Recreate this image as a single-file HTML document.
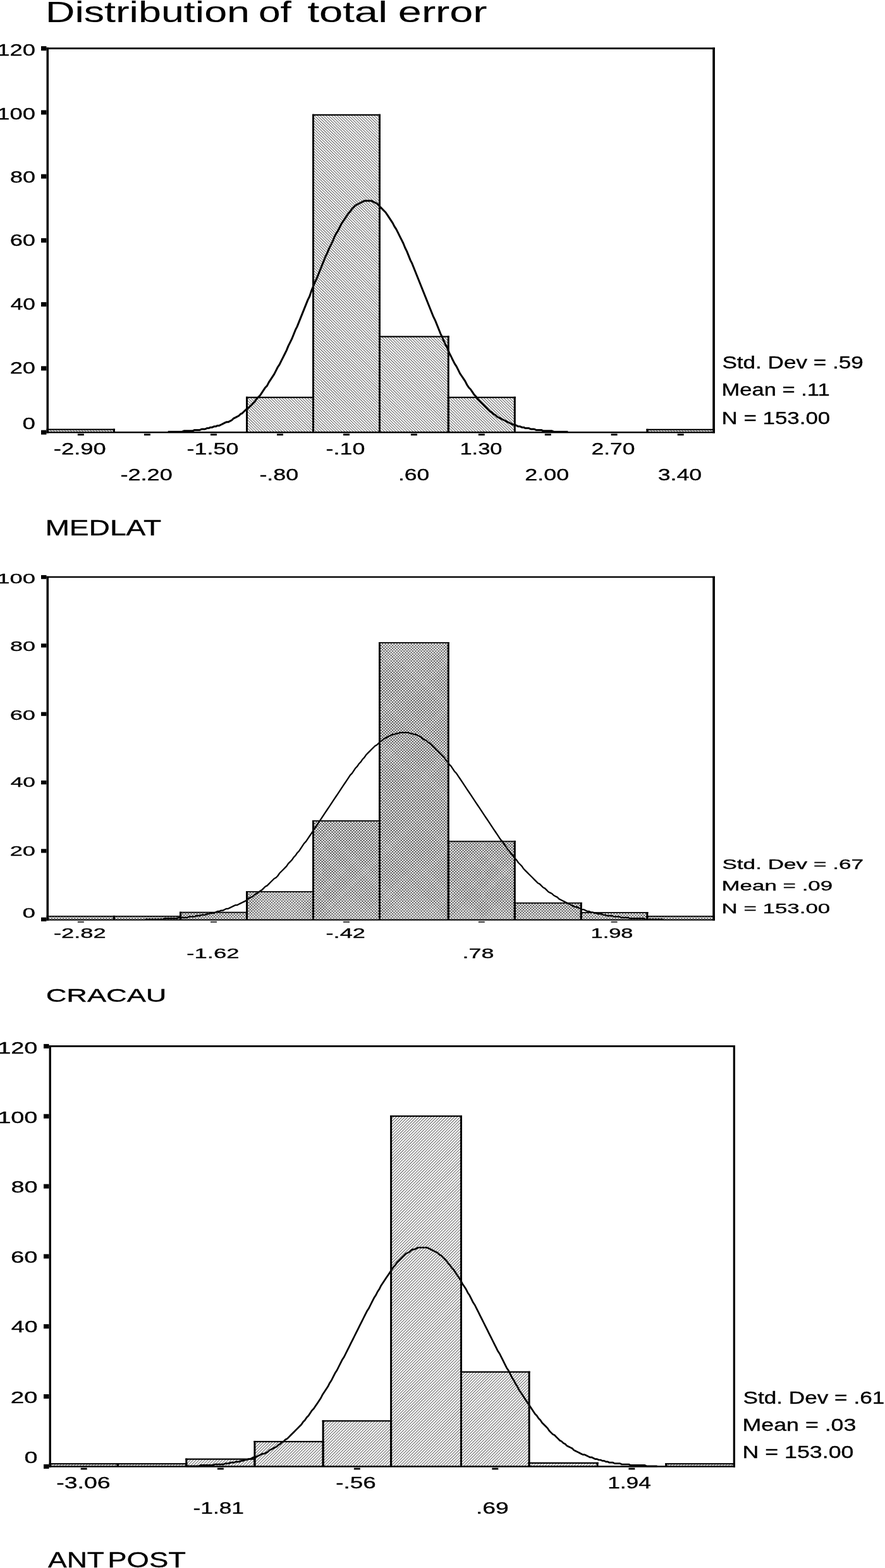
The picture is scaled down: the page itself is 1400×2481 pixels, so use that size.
<!DOCTYPE html>
<html><head><meta charset="utf-8"><title>Distribution of total error</title>
<style>html,body{margin:0;padding:0;background:#fff;overflow:hidden;width:1400px;height:2481px}svg{display:block}text{font-family:"Liberation Sans",Arial,Helvetica,sans-serif;fill:#000;stroke:#000;stroke-width:0.35px}</style>
</head><body>
<svg width="1400" height="2481" viewBox="0 0 1400 2481">
<rect width="1400" height="2481" fill="#fff"/>
<text y="35.2" font-size="47" style="stroke-width:0.1px"><tspan x="71.77" textLength="323.31" lengthAdjust="spacingAndGlyphs">Distribution</tspan> <tspan x="408.95" textLength="51.99" lengthAdjust="spacingAndGlyphs">of</tspan> <tspan x="486.40" textLength="126.64" lengthAdjust="spacingAndGlyphs">total</tspan> <tspan x="629.87" textLength="140.62" lengthAdjust="spacingAndGlyphs">error</tspan></text>
<path d="M75.2,680.8L78.6,684.1M78.5,679.6L83.1,684.1M83.0,679.6L87.6,684.1M87.5,679.6L92.1,684.1M92.0,679.6L96.6,684.1M96.5,679.6L101.1,684.1M101.0,679.6L105.6,684.1M105.5,679.6L110.1,684.1M110.0,679.6L114.6,684.1M114.5,679.6L119.1,684.1M119.0,679.6L123.6,684.1M123.5,679.6L128.1,684.1M128.0,679.6L132.6,684.1M132.5,679.6L137.1,684.1M137.0,679.6L141.6,684.1M141.5,679.6L146.1,684.1M146.0,679.6L150.6,684.1M150.5,679.6L155.1,684.1M155.0,679.6L159.6,684.1M159.5,679.6L164.1,684.1M164.0,679.6L168.6,684.1M168.5,679.6L173.1,684.1M173.0,679.6L177.6,684.1M177.5,679.6L180.4,682.4M390.5,681.0L393.6,684.1M390.5,676.6L398.1,684.1M390.5,672.2L402.6,684.1M390.5,667.8L407.1,684.1M390.5,663.4L411.6,684.1M390.5,659.0L416.1,684.1M390.5,654.6L420.6,684.1M390.5,650.2L425.1,684.1M390.5,645.8L429.6,684.1M390.5,641.4L434.1,684.1M390.5,637.0L438.6,684.1M390.5,632.6L443.1,684.1M391.1,628.8L447.6,684.1M395.6,628.8L452.1,684.1M400.1,628.8L456.6,684.1M404.6,628.8L461.1,684.1M409.1,628.8L465.6,684.1M413.6,628.8L470.1,684.1M418.1,628.8L474.6,684.1M422.6,628.8L479.1,684.1M427.1,628.8L483.6,684.1M431.6,628.8L488.1,684.1M436.1,628.8L492.6,684.1M440.6,628.8L495.5,682.5M445.1,628.8L495.5,678.1M449.6,628.8L495.5,673.7M454.1,628.8L495.5,669.3M458.6,628.8L495.5,664.9M463.1,628.8L495.5,660.5M467.6,628.8L495.5,656.1M472.1,628.8L495.5,651.7M476.6,628.8L495.5,647.3M481.1,628.8L495.5,642.9M485.6,628.8L495.5,638.5M490.1,628.8L495.5,634.1M494.6,628.8L495.5,629.7M495.5,682.5L497.1,684.1M495.5,678.1L501.6,684.1M495.5,673.7L506.1,684.1M495.5,669.3L510.6,684.1M495.5,664.9L515.1,684.1M495.5,660.5L519.6,684.1M495.5,656.1L524.1,684.1M495.5,651.7L528.6,684.1M495.5,647.3L533.1,684.1M495.5,642.9L537.6,684.1M495.5,638.5L542.1,684.1M495.5,634.1L546.6,684.1M495.5,629.7L551.1,684.1M495.5,625.3L555.6,684.1M495.5,620.9L560.1,684.1M495.5,616.5L564.6,684.1M495.5,612.1L569.1,684.1M495.5,607.7L573.6,684.1M495.5,603.3L578.1,684.1M495.5,598.9L582.6,684.1M495.5,594.5L587.1,684.1M495.5,590.1L591.6,684.1M495.5,585.7L596.1,684.1M495.5,581.3L600.5,684.0M495.5,576.9L600.5,679.6M495.5,572.5L600.5,675.2M495.5,568.1L600.5,670.8M495.5,563.7L600.5,666.4M495.5,559.3L600.5,662.0M495.5,554.9L600.5,657.6M495.5,550.5L600.5,653.2M495.5,546.1L600.5,648.8M495.5,541.7L600.5,644.4M495.5,537.3L600.5,640.0M495.5,532.9L600.5,635.6M495.5,528.5L600.5,631.2M495.5,524.1L600.5,626.8M495.5,519.7L600.5,622.4M495.5,515.3L600.5,618.0M495.5,510.9L600.5,613.6M495.5,506.5L600.5,609.2M495.5,502.1L600.5,604.8M495.5,497.7L600.5,600.4M495.5,493.3L600.5,596.0M495.5,488.9L600.5,591.6M495.5,484.5L600.5,587.2M495.5,480.1L600.5,582.8M495.5,475.7L600.5,578.4M495.5,471.3L600.5,574.0M495.5,466.9L600.5,569.6M495.5,462.5L600.5,565.2M495.5,458.1L600.5,560.8M495.5,453.7L600.5,556.4M495.5,449.3L600.5,552.0M495.5,444.9L600.5,547.6M495.5,440.5L600.5,543.2M495.5,436.1L600.5,538.8M495.5,431.7L600.5,534.4M495.5,427.3L600.5,530.0M495.5,422.9L600.5,525.6M495.5,418.5L600.5,521.2M495.5,414.1L600.5,516.8M495.5,409.7L600.5,512.4M495.5,405.3L600.5,508.0M495.5,400.9L600.5,503.6M495.5,396.5L600.5,499.2M495.5,392.1L600.5,494.8M495.5,387.7L600.5,490.4M495.5,383.3L600.5,486.0M495.5,378.9L600.5,481.6M495.5,374.5L600.5,477.2M495.5,370.1L600.5,472.8M495.5,365.7L600.5,468.4M495.5,361.3L600.5,464.0M495.5,356.9L600.5,459.6M495.5,352.5L600.5,455.2M495.5,348.1L600.5,450.8M495.5,343.7L600.5,446.4M495.5,339.3L600.5,442.0M495.5,334.9L600.5,437.6M495.5,330.5L600.5,433.2M495.5,326.1L600.5,428.8M495.5,321.7L600.5,424.4M495.5,317.3L600.5,420.0M495.5,312.9L600.5,415.6M495.5,308.5L600.5,411.2M495.5,304.1L600.5,406.8M495.5,299.7L600.5,402.4M495.5,295.3L600.5,398.0M495.5,290.9L600.5,393.6M495.5,286.5L600.5,389.2M495.5,282.1L600.5,384.8M495.5,277.7L600.5,380.4M495.5,273.3L600.5,376.0M495.5,268.9L600.5,371.6M495.5,264.5L600.5,367.2M495.5,260.1L600.5,362.8M495.5,255.7L600.5,358.4M495.5,251.3L600.5,354.0M495.5,246.9L600.5,349.6M495.5,242.5L600.5,345.2M495.5,238.1L600.5,340.8M495.5,233.7L600.5,336.4M495.5,229.3L600.5,332.0M495.5,224.9L600.5,327.6M495.5,220.5L600.5,323.2M495.5,216.1L600.5,318.8M495.5,211.7L600.5,314.4M495.5,207.3L600.5,310.0M495.5,202.9L600.5,305.6M495.5,198.5L600.5,301.2M495.5,194.1L600.5,296.8M495.5,189.7L600.5,292.4M495.5,185.3L600.5,288.0M496.4,181.8L600.5,283.6M500.9,181.8L600.5,279.2M505.4,181.8L600.5,274.8M509.9,181.8L600.5,270.4M514.4,181.8L600.5,266.0M518.9,181.8L600.5,261.6M523.4,181.8L600.5,257.2M527.9,181.8L600.5,252.8M532.4,181.8L600.5,248.4M536.9,181.8L600.5,244.0M541.4,181.8L600.5,239.6M545.9,181.8L600.5,235.2M550.4,181.8L600.5,230.8M554.9,181.8L600.5,226.4M559.4,181.8L600.5,222.0M563.9,181.8L600.5,217.6M568.4,181.8L600.5,213.2M572.9,181.8L600.5,208.8M577.4,181.8L600.5,204.4M581.9,181.8L600.5,200.0M586.4,181.8L600.5,195.6M590.9,181.8L600.5,191.2M595.4,181.8L600.5,186.8M599.9,181.8L600.5,182.4M600.5,679.6L605.1,684.1M600.5,675.2L609.6,684.1M600.5,670.8L614.1,684.1M600.5,666.4L618.6,684.1M600.5,662.0L623.1,684.1M600.5,657.6L627.6,684.1M600.5,653.2L632.1,684.1M600.5,648.8L636.6,684.1M600.5,644.4L641.1,684.1M600.5,640.0L645.6,684.1M600.5,635.6L650.1,684.1M600.5,631.2L654.6,684.1M600.5,626.8L659.1,684.1M600.5,622.4L663.6,684.1M600.5,618.0L668.1,684.1M600.5,613.6L672.6,684.1M600.5,609.2L677.1,684.1M600.5,604.8L681.6,684.1M600.5,600.4L686.1,684.1M600.5,596.0L690.6,684.1M600.5,591.6L695.1,684.1M600.5,587.2L699.6,684.1M600.5,582.8L704.1,684.1M600.5,578.4L708.6,684.1M600.5,574.0L709.3,680.3M600.5,569.6L709.3,675.9M600.5,565.2L709.3,671.5M600.5,560.8L709.3,667.1M600.5,556.4L709.3,662.7M600.5,552.0L709.3,658.3M600.5,547.6L709.3,653.9M600.5,543.2L709.3,649.5M600.5,538.8L709.3,645.1M600.5,534.4L709.3,640.7M603.2,532.6L709.3,636.3M607.7,532.6L709.3,631.9M612.2,532.6L709.3,627.5M616.7,532.6L709.3,623.1M621.2,532.6L709.3,618.7M625.7,532.6L709.3,614.3M630.2,532.6L709.3,609.9M634.7,532.6L709.3,605.5M639.2,532.6L709.3,601.1M643.7,532.6L709.3,596.7M648.2,532.6L709.3,592.3M652.7,532.6L709.3,587.9M657.2,532.6L709.3,583.5M661.7,532.6L709.3,579.1M666.2,532.6L709.3,574.7M670.7,532.6L709.3,570.3M675.2,532.6L709.3,565.9M679.7,532.6L709.3,561.5M684.2,532.6L709.3,557.1M688.7,532.6L709.3,552.7M693.2,532.6L709.3,548.3M697.7,532.6L709.3,543.9M702.2,532.6L709.3,539.5M706.7,532.6L709.3,535.1M709.3,680.3L713.1,684.1M709.3,675.9L717.6,684.1M709.3,671.5L722.1,684.1M709.3,667.1L726.6,684.1M709.3,662.7L731.1,684.1M709.3,658.3L735.6,684.1M709.3,653.9L740.1,684.1M709.3,649.5L744.6,684.1M709.3,645.1L749.1,684.1M709.3,640.7L753.6,684.1M709.3,636.3L758.1,684.1M709.3,631.9L762.6,684.1M710.6,628.8L767.1,684.1M715.1,628.8L771.6,684.1M719.6,628.8L776.1,684.1M724.1,628.8L780.6,684.1M728.6,628.8L785.1,684.1M733.1,628.8L789.6,684.1M737.6,628.8L794.1,684.1M742.1,628.8L798.6,684.1M746.6,628.8L803.1,684.1M751.1,628.8L807.6,684.1M755.6,628.8L812.1,684.1M760.1,628.8L814.3,681.8M764.6,628.8L814.3,677.4M769.1,628.8L814.3,673.0M773.6,628.8L814.3,668.6M778.1,628.8L814.3,664.2M782.6,628.8L814.3,659.8M787.1,628.8L814.3,655.4M791.6,628.8L814.3,651.0M796.1,628.8L814.3,646.6M800.6,628.8L814.3,642.2M805.1,628.8L814.3,637.8M809.6,628.8L814.3,633.4M1023.9,679.9L1028.1,684.1M1028.2,679.8L1032.6,684.1M1032.7,679.8L1037.1,684.1M1037.2,679.8L1041.6,684.1M1041.7,679.8L1046.1,684.1M1046.2,679.8L1050.6,684.1M1050.7,679.8L1055.1,684.1M1055.2,679.8L1059.6,684.1M1059.7,679.8L1064.1,684.1M1064.2,679.8L1068.6,684.1M1068.7,679.8L1073.1,684.1M1073.2,679.8L1077.6,684.1M1077.7,679.8L1082.1,684.1M1082.2,679.8L1086.6,684.1M1086.7,679.8L1091.1,684.1M1091.2,679.8L1095.6,684.1M1095.7,679.8L1100.1,684.1M1100.2,679.8L1104.6,684.1M1104.7,679.8L1109.1,684.1M1109.2,679.8L1113.6,684.1M1113.7,679.8L1118.1,684.1M1118.2,679.8L1122.6,684.1M1122.7,679.8L1127.1,684.1M1127.2,679.8L1129.5,682.0" fill="none" stroke="#6e6e6e" stroke-width="1.15"/>
<rect x="73.75" y="678.50" width="108.15" height="2.20" fill="#000" />
<rect x="73.75" y="678.50" width="3.00" height="5.60" fill="#000" />
<rect x="178.90" y="678.50" width="3.00" height="5.60" fill="#000" />
<rect x="389.00" y="627.70" width="108.00" height="2.20" fill="#000" />
<rect x="389.00" y="627.70" width="3.00" height="56.40" fill="#000" />
<rect x="494.00" y="627.70" width="3.00" height="56.40" fill="#000" />
<rect x="494.00" y="180.70" width="108.00" height="2.20" fill="#000" />
<rect x="494.00" y="180.70" width="3.00" height="503.40" fill="#000" />
<rect x="599.00" y="180.70" width="3.00" height="503.40" fill="#000" />
<rect x="599.00" y="531.50" width="111.80" height="2.20" fill="#000" />
<rect x="599.00" y="531.50" width="3.00" height="152.60" fill="#000" />
<rect x="707.80" y="531.50" width="3.00" height="152.60" fill="#000" />
<rect x="707.80" y="627.70" width="108.00" height="2.20" fill="#000" />
<rect x="707.80" y="627.70" width="3.00" height="56.40" fill="#000" />
<rect x="812.80" y="627.70" width="3.00" height="56.40" fill="#000" />
<rect x="1022.40" y="678.70" width="108.60" height="2.20" fill="#000" />
<rect x="1022.40" y="678.70" width="3.00" height="5.40" fill="#000" />
<rect x="1128.00" y="678.70" width="3.00" height="5.40" fill="#000" />
<path d="M265.7,683.2 L268.5,683.2 L271.3,683.2 L274.1,683.2 L276.9,683.2 L279.7,683.2 L282.5,683.2 L285.3,683.2 L288.1,683.2 L290.9,681.8 L293.7,681.8 L296.5,681.8 L299.3,681.8 L302.1,681.8 L304.9,681.8 L307.7,680.4 L310.5,680.4 L313.3,680.4 L316.1,680.4 L318.9,679.0 L321.7,679.0 L324.5,679.0 L327.3,677.6 L330.1,677.6 L332.9,676.2 L335.7,676.2 L338.5,674.8 L341.3,674.8 L344.1,673.4 L346.9,673.4 L349.7,672.0 L352.5,670.6 L355.3,669.2 L358.1,667.8 L360.9,667.8 L363.7,666.4 L366.5,665.0 L369.3,662.2 L372.1,660.8 L374.9,659.4 L377.7,658.0 L380.5,655.2 L383.3,653.8 L386.1,651.0 L388.9,648.2 L391.7,646.8 L394.5,644.0 L397.3,641.2 L400.1,638.4 L402.9,635.6 L405.7,631.4 L408.5,628.6 L411.3,625.8 L414.1,621.6 L416.9,617.4 L419.7,613.2 L422.5,610.4 L425.3,604.8 L428.1,600.6 L430.9,596.4 L433.7,592.2 L436.5,586.6 L439.3,581.0 L442.1,576.8 L444.9,571.2 L447.7,565.6 L450.5,560.0 L453.3,554.4 L456.1,547.4 L458.9,541.8 L461.7,536.2 L464.5,529.2 L467.3,522.2 L470.1,516.6 L472.9,509.6 L475.7,502.6 L478.5,495.6 L481.3,488.6 L484.1,481.6 L486.9,474.6 L489.7,469.0 L492.5,460.6 L495.3,453.6 L498.1,446.6 L500.9,441.0 L503.7,434.0 L506.5,427.0 L509.3,420.0 L512.1,413.0 L514.9,406.0 L517.7,400.4 L520.5,393.4 L523.3,387.8 L526.1,382.2 L528.9,375.2 L531.7,369.6 L534.5,365.4 L537.3,359.8 L540.1,354.2 L542.9,350.0 L545.7,345.8 L548.5,341.6 L551.3,337.4 L554.1,334.6 L556.9,330.4 L559.7,327.6 L562.5,324.8 L565.3,323.4 L568.1,322.0 L570.9,320.6 L573.7,319.2 L576.5,317.8 L579.3,317.8 L582.1,317.8 L584.9,317.8 L587.7,317.8 L590.5,319.2 L593.3,320.6 L596.1,322.0 L598.9,324.8 L601.6,327.6 L604.4,330.4 L607.2,333.2 L610.0,336.0 L612.8,340.2 L615.6,344.4 L618.4,348.6 L621.2,352.8 L624.0,358.4 L626.8,362.6 L629.6,368.2 L632.4,373.8 L635.2,379.4 L638.0,385.0 L640.8,392.0 L643.6,397.6 L646.4,404.6 L649.2,411.6 L652.0,417.2 L654.8,424.2 L657.6,431.2 L660.4,438.2 L663.2,445.2 L666.0,452.2 L668.8,459.2 L671.6,466.2 L674.4,473.2 L677.2,480.2 L680.0,487.2 L682.8,494.2 L685.6,501.2 L688.4,506.8 L691.2,513.8 L694.0,520.8 L696.8,527.8 L699.6,533.4 L702.4,540.4 L705.2,546.0 L708.0,551.6 L710.8,558.6 L713.6,564.2 L716.4,569.8 L719.2,575.4 L722.0,579.6 L724.8,585.2 L727.6,590.8 L730.4,595.0 L733.2,599.2 L736.0,603.4 L738.8,609.0 L741.6,613.2 L744.4,616.0 L747.2,620.2 L750.0,624.4 L752.8,627.2 L755.6,631.4 L758.4,634.2 L761.2,637.0 L764.0,639.8 L766.8,642.6 L769.6,645.4 L772.4,648.2 L775.2,651.0 L778.0,652.4 L780.8,655.2 L783.6,656.6 L786.4,659.4 L789.2,660.8 L792.0,662.2 L794.8,663.6 L797.6,665.0 L800.4,666.4 L803.2,667.8 L806.0,669.2 L808.8,670.6 L811.6,672.0 L814.4,672.0 L817.2,673.4 L820.0,674.8 L822.8,674.8 L825.6,676.2 L828.4,676.2 L831.2,677.6 L834.0,677.6 L836.8,677.6 L839.6,679.0 L842.4,679.0 L845.2,679.0 L848.0,680.4 L850.8,680.4 L853.6,680.4 L856.4,680.4 L859.2,681.8 L862.0,681.8 L864.8,681.8 L867.6,681.8 L870.4,681.8 L873.2,681.8 L876.0,683.2 L878.8,683.2 L881.6,683.2 L884.4,683.2 L887.2,683.2 L890.0,683.2 L892.8,683.2 L895.6,683.2 L898.4,683.2" fill="none" stroke="#000" stroke-width="3.0" stroke-linejoin="round"/>
<rect x="73.50" y="75.20" width="3.50" height="610.15" fill="#000" />
<rect x="73.50" y="75.20" width="1057.45" height="2.80" fill="#000" />
<rect x="1127.25" y="75.20" width="3.70" height="610.15" fill="#000" />
<rect x="73.50" y="682.85" width="1057.45" height="2.50" fill="#000" />
<rect x="65.00" y="73.10" width="8.50" height="7.00" fill="#000" />
<text transform="translate(-4.73,88.30) scale(1.3763,1)" font-size="26.4">120</text>
<rect x="65.00" y="174.35" width="8.50" height="7.00" fill="#000" />
<text transform="translate(-4.73,188.60) scale(1.3763,1)" font-size="26.4">100</text>
<rect x="65.00" y="275.60" width="8.50" height="7.00" fill="#000" />
<text transform="translate(15.97,288.80) scale(1.3607,1)" font-size="26.4">80</text>
<rect x="65.00" y="376.85" width="8.50" height="7.00" fill="#000" />
<text transform="translate(15.69,389.30) scale(1.3707,1)" font-size="26.4">60</text>
<rect x="65.00" y="478.10" width="8.50" height="7.00" fill="#000" />
<text transform="translate(16.71,490.00) scale(1.3348,1)" font-size="26.4">40</text>
<rect x="65.00" y="579.35" width="8.50" height="7.00" fill="#000" />
<text transform="translate(15.69,590.70) scale(1.3707,1)" font-size="26.4">20</text>
<rect x="65.00" y="680.60" width="8.50" height="7.00" fill="#000" />
<text transform="translate(35.53,679.40) scale(1.3882,1)" font-size="26.4">0</text>
<rect x="122.83" y="686.30" width="10.00" height="2.80" fill="#000" />
<rect x="227.90" y="686.30" width="10.00" height="2.80" fill="#000" />
<rect x="332.95" y="686.30" width="10.00" height="2.80" fill="#000" />
<rect x="438.00" y="686.30" width="10.00" height="2.80" fill="#000" />
<rect x="543.00" y="686.30" width="10.00" height="2.80" fill="#000" />
<rect x="649.90" y="686.30" width="10.00" height="2.80" fill="#000" />
<rect x="756.80" y="686.30" width="10.00" height="2.80" fill="#000" />
<rect x="861.80" y="686.30" width="10.00" height="2.80" fill="#000" />
<rect x="966.60" y="686.30" width="10.00" height="2.80" fill="#000" />
<rect x="1071.70" y="686.30" width="10.00" height="2.80" fill="#000" />
<text transform="translate(84.87,719.30) scale(1.3754,1)" font-size="26.4">-2.90</text>
<text transform="translate(190.47,760.40) scale(1.3685,1)" font-size="26.4">-2.20</text>
<text transform="translate(295.58,719.30) scale(1.3598,1)" font-size="26.4">-1.50</text>
<text transform="translate(410.39,760.40) scale(1.3581,1)" font-size="26.4">-.80</text>
<text transform="translate(515.59,719.30) scale(1.3581,1)" font-size="26.4">-.10</text>
<text transform="translate(630.01,760.40) scale(1.3441,1)" font-size="26.4">.60</text>
<text transform="translate(727.41,719.30) scale(1.3064,1)" font-size="26.4">1.30</text>
<text transform="translate(830.20,760.40) scale(1.3622,1)" font-size="26.4">2.00</text>
<text transform="translate(935.42,719.30) scale(1.3459,1)" font-size="26.4">2.70</text>
<text transform="translate(1040.66,760.40) scale(1.3531,1)" font-size="26.4">3.40</text>
<text transform="translate(1142.42,582.60) scale(1.2866,1)" font-size="27.3">Std. Dev = .59</text>
<text transform="translate(1141.55,626.40) scale(1.2648,1)" font-size="27.3">Mean = .11</text>
<text transform="translate(1141.52,671.40) scale(1.2790,1)" font-size="27.3">N = 153.00</text>
<text transform="translate(71.39,846.80) scale(1.3336,1)" font-size="34.6">MEDLAT</text>
<path d="M75.2,1455.2L75.6,1455.5M75.2,1450.7L80.1,1455.5M78.9,1449.8L84.7,1455.5M83.4,1449.8L89.2,1455.5M88.0,1449.8L93.8,1455.5M92.5,1449.8L98.3,1455.5M97.1,1449.8L102.9,1455.5M101.6,1449.8L107.4,1455.5M106.2,1449.8L112.0,1455.5M110.7,1449.8L116.5,1455.5M115.3,1449.8L121.1,1455.5M119.8,1449.8L125.6,1455.5M124.4,1449.8L130.2,1455.5M128.9,1449.8L134.7,1455.5M133.5,1449.8L139.3,1455.5M138.0,1449.8L143.8,1455.5M142.6,1449.8L148.4,1455.5M147.1,1449.8L152.9,1455.5M151.7,1449.8L157.5,1455.5M156.2,1449.8L162.0,1455.5M160.8,1449.8L166.6,1455.5M165.3,1449.8L171.1,1455.5M169.9,1449.8L175.7,1455.5M174.4,1449.8L180.2,1455.5M179.0,1449.8L180.4,1451.2M180.4,1451.2L184.8,1455.5M183.5,1449.8L189.3,1455.5M188.1,1449.8L193.9,1455.5M192.6,1449.8L198.4,1455.5M197.2,1449.8L203.0,1455.5M201.7,1449.8L207.5,1455.5M206.3,1449.8L212.1,1455.5M210.8,1449.8L216.6,1455.5M215.4,1449.8L221.2,1455.5M219.9,1449.8L225.7,1455.5M224.5,1449.8L230.3,1455.5M229.0,1449.8L234.8,1455.5M233.6,1449.8L239.4,1455.5M238.1,1449.8L243.9,1455.5M242.7,1449.8L248.5,1455.5M247.2,1449.8L253.0,1455.5M251.8,1449.8L257.6,1455.5M256.3,1449.8L262.1,1455.5M260.9,1449.8L266.7,1455.5M265.4,1449.8L271.2,1455.5M270.0,1449.8L275.8,1455.5M274.5,1449.8L280.3,1455.5M279.1,1449.8L284.9,1455.5M283.6,1449.8L285.5,1451.6M285.5,1451.6L289.4,1455.5M285.5,1447.2L294.0,1455.5M286.4,1443.6L298.5,1455.5M291.0,1443.6L303.1,1455.5M295.5,1443.6L307.6,1455.5M300.1,1443.6L312.2,1455.5M304.6,1443.6L316.7,1455.5M309.2,1443.6L321.3,1455.5M313.7,1443.6L325.8,1455.5M318.3,1443.6L330.4,1455.5M322.8,1443.6L334.9,1455.5M327.4,1443.6L339.5,1455.5M331.9,1443.6L344.0,1455.5M336.5,1443.6L348.6,1455.5M341.0,1443.6L353.1,1455.5M345.6,1443.6L357.7,1455.5M350.1,1443.6L362.2,1455.5M354.7,1443.6L366.8,1455.5M359.2,1443.6L371.3,1455.5M363.8,1443.6L375.9,1455.5M368.3,1443.6L380.4,1455.5M372.9,1443.6L385.0,1455.5M377.4,1443.6L389.5,1455.5M382.0,1443.6L390.5,1452.0M386.5,1443.6L390.5,1447.5M390.5,1452.0L394.1,1455.5M390.5,1447.5L398.6,1455.5M390.5,1443.0L403.2,1455.5M390.5,1438.6L407.7,1455.5M390.5,1434.1L412.3,1455.5M390.5,1429.6L416.8,1455.5M390.5,1425.1L421.4,1455.5M390.5,1420.7L425.9,1455.5M390.5,1416.2L430.5,1455.5M390.5,1411.7L435.0,1455.5M394.3,1411.0L439.6,1455.5M398.9,1411.0L444.1,1455.5M403.4,1411.0L448.7,1455.5M408.0,1411.0L453.2,1455.5M412.5,1411.0L457.8,1455.5M417.1,1411.0L462.3,1455.5M421.6,1411.0L466.9,1455.5M426.2,1411.0L471.4,1455.5M430.7,1411.0L476.0,1455.5M435.3,1411.0L480.5,1455.5M439.8,1411.0L485.1,1455.5M444.4,1411.0L489.6,1455.5M448.9,1411.0L494.2,1455.5M453.5,1411.0L495.5,1452.3M458.0,1411.0L495.5,1447.8M462.6,1411.0L495.5,1443.4M467.1,1411.0L495.5,1438.9M471.7,1411.0L495.5,1434.4M476.2,1411.0L495.5,1430.0M480.8,1411.0L495.5,1425.5M485.3,1411.0L495.5,1421.0M489.9,1411.0L495.5,1416.5M494.4,1411.0L495.5,1412.1M495.5,1452.3L498.7,1455.5M495.5,1447.8L503.3,1455.5M495.5,1443.4L507.8,1455.5M495.5,1438.9L512.4,1455.5M495.5,1434.4L516.9,1455.5M495.5,1430.0L521.5,1455.5M495.5,1425.5L526.0,1455.5M495.5,1421.0L530.6,1455.5M495.5,1416.5L535.1,1455.5M495.5,1412.1L539.7,1455.5M495.5,1407.6L544.2,1455.5M495.5,1403.1L548.8,1455.5M495.5,1398.7L553.3,1455.5M495.5,1394.2L557.9,1455.5M495.5,1389.7L562.4,1455.5M495.5,1385.3L567.0,1455.5M495.5,1380.8L571.5,1455.5M495.5,1376.3L576.1,1455.5M495.5,1371.8L580.6,1455.5M495.5,1367.4L585.2,1455.5M495.5,1362.9L589.7,1455.5M495.5,1358.4L594.3,1455.5M495.5,1354.0L598.8,1455.5M495.5,1349.5L600.5,1452.7M495.5,1345.0L600.5,1448.2M495.5,1340.6L600.5,1443.7M495.5,1336.1L600.5,1439.2M495.5,1331.6L600.5,1434.8M495.5,1327.1L600.5,1430.3M495.5,1322.7L600.5,1425.8M495.5,1318.2L600.5,1421.4M495.5,1313.7L600.5,1416.9M495.5,1309.3L600.5,1412.4M495.5,1304.8L600.5,1408.0M495.5,1300.3L600.5,1403.5M498.5,1298.8L600.5,1399.0M503.0,1298.8L600.5,1394.5M507.6,1298.8L600.5,1390.1M512.1,1298.8L600.5,1385.6M516.7,1298.8L600.5,1381.1M521.2,1298.8L600.5,1376.7M525.8,1298.8L600.5,1372.2M530.3,1298.8L600.5,1367.7M534.9,1298.8L600.5,1363.3M539.4,1298.8L600.5,1358.8M544.0,1298.8L600.5,1354.3M548.5,1298.8L600.5,1349.8M553.1,1298.8L600.5,1345.4M557.6,1298.8L600.5,1340.9M562.2,1298.8L600.5,1336.4M566.7,1298.8L600.5,1332.0M571.3,1298.8L600.5,1327.5M575.8,1298.8L600.5,1323.0M580.4,1298.8L600.5,1318.6M584.9,1298.8L600.5,1314.1M589.5,1298.8L600.5,1309.6M594.0,1298.8L600.5,1305.1M598.6,1298.8L600.5,1300.7M600.5,1452.7L603.4,1455.5M600.5,1448.2L607.9,1455.5M600.5,1443.7L612.5,1455.5M600.5,1439.2L617.0,1455.5M600.5,1434.8L621.6,1455.5M600.5,1430.3L626.1,1455.5M600.5,1425.8L630.7,1455.5M600.5,1421.4L635.2,1455.5M600.5,1416.9L639.8,1455.5M600.5,1412.4L644.3,1455.5M600.5,1408.0L648.9,1455.5M600.5,1403.5L653.4,1455.5M600.5,1399.0L658.0,1455.5M600.5,1394.5L662.5,1455.5M600.5,1390.1L667.1,1455.5M600.5,1385.6L671.6,1455.5M600.5,1381.1L676.2,1455.5M600.5,1376.7L680.7,1455.5M600.5,1372.2L685.3,1455.5M600.5,1367.7L689.8,1455.5M600.5,1363.3L694.4,1455.5M600.5,1358.8L698.9,1455.5M600.5,1354.3L703.5,1455.5M600.5,1349.8L708.0,1455.5M600.5,1345.4L709.3,1452.3M600.5,1340.9L709.3,1447.8M600.5,1336.4L709.3,1443.3M600.5,1332.0L709.3,1438.8M600.5,1327.5L709.3,1434.4M600.5,1323.0L709.3,1429.9M600.5,1318.6L709.3,1425.4M600.5,1314.1L709.3,1421.0M600.5,1309.6L709.3,1416.5M600.5,1305.1L709.3,1412.0M600.5,1300.7L709.3,1407.6M600.5,1296.2L709.3,1403.1M600.5,1291.7L709.3,1398.6M600.5,1287.3L709.3,1394.1M600.5,1282.8L709.3,1389.7M600.5,1278.3L709.3,1385.2M600.5,1273.9L709.3,1380.7M600.5,1269.4L709.3,1376.3M600.5,1264.9L709.3,1371.8M600.5,1260.4L709.3,1367.3M600.5,1256.0L709.3,1362.9M600.5,1251.5L709.3,1358.4M600.5,1247.0L709.3,1353.9M600.5,1242.6L709.3,1349.4M600.5,1238.1L709.3,1345.0M600.5,1233.6L709.3,1340.5M600.5,1229.2L709.3,1336.0M600.5,1224.7L709.3,1331.6M600.5,1220.2L709.3,1327.1M600.5,1215.7L709.3,1322.6M600.5,1211.3L709.3,1318.2M600.5,1206.8L709.3,1313.7M600.5,1202.3L709.3,1309.2M600.5,1197.9L709.3,1304.7M600.5,1193.4L709.3,1300.3M600.5,1188.9L709.3,1295.8M600.5,1184.5L709.3,1291.3M600.5,1180.0L709.3,1286.9M600.5,1175.5L709.3,1282.4M600.5,1171.0L709.3,1277.9M600.5,1166.6L709.3,1273.5M600.5,1162.1L709.3,1269.0M600.5,1157.6L709.3,1264.5M600.5,1153.2L709.3,1260.0M600.5,1148.7L709.3,1255.6M600.5,1144.2L709.3,1251.1M600.5,1139.8L709.3,1246.6M600.5,1135.3L709.3,1242.2M600.5,1130.8L709.3,1237.7M600.5,1126.3L709.3,1233.2M600.5,1121.9L709.3,1228.8M600.5,1117.4L709.3,1224.3M600.5,1112.9L709.3,1219.8M600.5,1108.5L709.3,1215.3M600.5,1104.0L709.3,1210.9M600.5,1099.5L709.3,1206.4M600.5,1095.1L709.3,1201.9M600.5,1090.6L709.3,1197.5M600.5,1086.1L709.3,1193.0M600.5,1081.6L709.3,1188.5M600.5,1077.2L709.3,1184.1M600.5,1072.7L709.3,1179.6M600.5,1068.2L709.3,1175.1M600.5,1063.8L709.3,1170.6M600.5,1059.3L709.3,1166.2M600.5,1054.8L709.3,1161.7M600.5,1050.4L709.3,1157.2M600.5,1045.9L709.3,1152.8M600.5,1041.4L709.3,1148.3M600.5,1036.9L709.3,1143.8M600.5,1032.5L709.3,1139.4M600.5,1028.0L709.3,1134.9M600.5,1023.5L709.3,1130.4M600.5,1019.1L709.3,1125.9M603.0,1017.0L709.3,1121.5M607.5,1017.0L709.3,1117.0M612.1,1017.0L709.3,1112.5M616.6,1017.0L709.3,1108.1M621.2,1017.0L709.3,1103.6M625.7,1017.0L709.3,1099.1M630.3,1017.0L709.3,1094.7M634.8,1017.0L709.3,1090.2M639.4,1017.0L709.3,1085.7M643.9,1017.0L709.3,1081.2M648.5,1017.0L709.3,1076.8M653.0,1017.0L709.3,1072.3M657.6,1017.0L709.3,1067.8M662.1,1017.0L709.3,1063.4M666.7,1017.0L709.3,1058.9M671.2,1017.0L709.3,1054.4M675.8,1017.0L709.3,1050.0M680.3,1017.0L709.3,1045.5M684.9,1017.0L709.3,1041.0M689.4,1017.0L709.3,1036.5M694.0,1017.0L709.3,1032.1M698.5,1017.0L709.3,1027.6M703.1,1017.0L709.3,1023.1M707.6,1017.0L709.3,1018.7M709.3,1452.3L712.6,1455.5M709.3,1447.8L717.1,1455.5M709.3,1443.3L721.7,1455.5M709.3,1438.8L726.2,1455.5M709.3,1434.4L730.8,1455.5M709.3,1429.9L735.3,1455.5M709.3,1425.4L739.9,1455.5M709.3,1421.0L744.4,1455.5M709.3,1416.5L749.0,1455.5M709.3,1412.0L753.5,1455.5M709.3,1407.6L758.1,1455.5M709.3,1403.1L762.6,1455.5M709.3,1398.6L767.2,1455.5M709.3,1394.1L771.7,1455.5M709.3,1389.7L776.3,1455.5M709.3,1385.2L780.8,1455.5M709.3,1380.7L785.4,1455.5M709.3,1376.3L789.9,1455.5M709.3,1371.8L794.5,1455.5M709.3,1367.3L799.0,1455.5M709.3,1362.9L803.6,1455.5M709.3,1358.4L808.1,1455.5M709.3,1353.9L812.7,1455.5M709.3,1349.4L814.3,1452.6M709.3,1345.0L814.3,1448.1M709.3,1340.5L814.3,1443.7M709.3,1336.0L814.3,1439.2M709.3,1331.6L814.3,1434.7M713.6,1331.3L814.3,1430.3M718.1,1331.3L814.3,1425.8M722.7,1331.3L814.3,1421.3M727.2,1331.3L814.3,1416.8M731.8,1331.3L814.3,1412.4M736.3,1331.3L814.3,1407.9M740.9,1331.3L814.3,1403.4M745.4,1331.3L814.3,1399.0M750.0,1331.3L814.3,1394.5M754.5,1331.3L814.3,1390.0M759.1,1331.3L814.3,1385.6M763.6,1331.3L814.3,1381.1M768.2,1331.3L814.3,1376.6M772.7,1331.3L814.3,1372.1M777.3,1331.3L814.3,1367.7M781.8,1331.3L814.3,1363.2M786.4,1331.3L814.3,1358.7M790.9,1331.3L814.3,1354.3M795.5,1331.3L814.3,1349.8M800.0,1331.3L814.3,1345.3M804.6,1331.3L814.3,1340.9M809.1,1331.3L814.3,1336.4M813.7,1331.3L814.3,1331.9M814.3,1452.6L817.2,1455.5M814.3,1448.1L821.8,1455.5M814.3,1443.7L826.3,1455.5M814.3,1439.2L830.9,1455.5M814.3,1434.7L835.4,1455.5M814.3,1430.3L840.0,1455.5M817.4,1428.8L844.5,1455.5M821.9,1428.8L849.1,1455.5M826.5,1428.8L853.6,1455.5M831.0,1428.8L858.2,1455.5M835.6,1428.8L862.7,1455.5M840.1,1428.8L867.3,1455.5M844.7,1428.8L871.8,1455.5M849.2,1428.8L876.4,1455.5M853.8,1428.8L880.9,1455.5M858.3,1428.8L885.5,1455.5M862.9,1428.8L890.0,1455.5M867.4,1428.8L894.6,1455.5M872.0,1428.8L899.1,1455.5M876.5,1428.8L903.7,1455.5M881.1,1428.8L908.2,1455.5M885.6,1428.8L912.8,1455.5M890.2,1428.8L917.3,1455.5M894.7,1428.8L919.3,1452.9M899.3,1428.8L919.3,1448.5M903.8,1428.8L919.3,1444.0M908.4,1428.8L919.3,1439.5M912.9,1428.8L919.3,1435.1M917.5,1428.8L919.3,1430.6M919.3,1452.9L921.9,1455.5M919.3,1448.5L926.4,1455.5M919.3,1444.0L931.0,1455.5M923.8,1444.0L935.5,1455.5M928.4,1444.0L940.1,1455.5M932.9,1444.0L944.6,1455.5M937.5,1444.0L949.2,1455.5M942.0,1444.0L953.7,1455.5M946.6,1444.0L958.3,1455.5M951.1,1444.0L962.8,1455.5M955.7,1444.0L967.4,1455.5M960.2,1444.0L971.9,1455.5M964.8,1444.0L976.5,1455.5M969.3,1444.0L981.0,1455.5M973.9,1444.0L985.6,1455.5M978.4,1444.0L990.1,1455.5M983.0,1444.0L994.7,1455.5M987.5,1444.0L999.2,1455.5M992.1,1444.0L1003.8,1455.5M996.6,1444.0L1008.3,1455.5M1001.2,1444.0L1012.9,1455.5M1005.7,1444.0L1017.4,1455.5M1010.3,1444.0L1022.0,1455.5M1014.8,1444.0L1023.9,1452.9M1019.4,1444.0L1023.9,1448.4M1023.9,1452.9L1026.5,1455.5M1025.3,1449.8L1031.1,1455.5M1029.8,1449.8L1035.6,1455.5M1034.4,1449.8L1040.2,1455.5M1038.9,1449.8L1044.7,1455.5M1043.5,1449.8L1049.3,1455.5M1048.0,1449.8L1053.8,1455.5M1052.6,1449.8L1058.4,1455.5M1057.1,1449.8L1062.9,1455.5M1061.7,1449.8L1067.5,1455.5M1066.2,1449.8L1072.0,1455.5M1070.8,1449.8L1076.6,1455.5M1075.3,1449.8L1081.1,1455.5M1079.9,1449.8L1085.7,1455.5M1084.4,1449.8L1090.2,1455.5M1089.0,1449.8L1094.8,1455.5M1093.5,1449.8L1099.3,1455.5M1098.1,1449.8L1103.9,1455.5M1102.6,1449.8L1108.4,1455.5M1107.2,1449.8L1113.0,1455.5M1111.7,1449.8L1117.5,1455.5M1116.3,1449.8L1122.1,1455.5M1120.8,1449.8L1126.6,1455.5M1125.4,1449.8L1129.5,1453.8" fill="none" stroke="#000" stroke-opacity="0.58" stroke-width="1.02"/>
<path d="M75.2,1450.3L75.8,1449.8M75.2,1454.8L80.4,1449.8M79.1,1455.5L84.9,1449.8M83.7,1455.5L89.5,1449.8M88.2,1455.5L94.0,1449.8M92.8,1455.5L98.6,1449.8M97.3,1455.5L103.1,1449.8M101.9,1455.5L107.7,1449.8M106.4,1455.5L112.2,1449.8M111.0,1455.5L116.8,1449.8M115.5,1455.5L121.3,1449.8M120.1,1455.5L125.9,1449.8M124.6,1455.5L130.4,1449.8M129.2,1455.5L135.0,1449.8M133.7,1455.5L139.5,1449.8M138.3,1455.5L144.1,1449.8M142.8,1455.5L148.6,1449.8M147.4,1455.5L153.2,1449.8M151.9,1455.5L157.7,1449.8M156.5,1455.5L162.3,1449.8M161.0,1455.5L166.8,1449.8M165.6,1455.5L171.4,1449.8M170.1,1455.5L175.9,1449.8M174.7,1455.5L180.4,1449.9M179.2,1455.5L180.4,1454.3M180.4,1454.3L185.0,1449.8M183.8,1455.5L189.6,1449.8M188.3,1455.5L194.1,1449.8M192.9,1455.5L198.7,1449.8M197.4,1455.5L203.2,1449.8M202.0,1455.5L207.8,1449.8M206.5,1455.5L212.3,1449.8M211.1,1455.5L216.9,1449.8M215.6,1455.5L221.4,1449.8M220.2,1455.5L226.0,1449.8M224.7,1455.5L230.5,1449.8M229.3,1455.5L235.1,1449.8M233.8,1455.5L239.6,1449.8M238.4,1455.5L244.2,1449.8M242.9,1455.5L248.7,1449.8M247.5,1455.5L253.3,1449.8M252.0,1455.5L257.8,1449.8M256.6,1455.5L262.4,1449.8M261.1,1455.5L266.9,1449.8M265.7,1455.5L271.5,1449.8M270.2,1455.5L276.0,1449.8M274.8,1455.5L280.6,1449.8M279.3,1455.5L285.1,1449.8M283.9,1455.5L285.5,1453.9M285.5,1444.9L286.9,1443.6M285.5,1449.4L291.4,1443.6M285.5,1453.9L296.0,1443.6M288.4,1455.5L300.5,1443.6M293.0,1455.5L305.1,1443.6M297.5,1455.5L309.6,1443.6M302.1,1455.5L314.2,1443.6M306.6,1455.5L318.7,1443.6M311.2,1455.5L323.3,1443.6M315.7,1455.5L327.8,1443.6M320.3,1455.5L332.4,1443.6M324.8,1455.5L336.9,1443.6M329.4,1455.5L341.5,1443.6M333.9,1455.5L346.0,1443.6M338.5,1455.5L350.6,1443.6M343.0,1455.5L355.1,1443.6M347.6,1455.5L359.7,1443.6M352.1,1455.5L364.2,1443.6M356.7,1455.5L368.8,1443.6M361.2,1455.5L373.3,1443.6M365.8,1455.5L377.9,1443.6M370.3,1455.5L382.4,1443.6M374.9,1455.5L387.0,1443.6M379.4,1455.5L390.5,1444.6M384.0,1455.5L390.5,1449.1M388.5,1455.5L390.5,1453.5M390.5,1413.3L392.8,1411.0M390.5,1417.8L397.4,1411.0M390.5,1422.2L401.9,1411.0M390.5,1426.7L406.5,1411.0M390.5,1431.2L411.0,1411.0M390.5,1435.7L415.6,1411.0M390.5,1440.1L420.1,1411.0M390.5,1444.6L424.7,1411.0M390.5,1449.1L429.2,1411.0M390.5,1453.5L433.8,1411.0M393.1,1455.5L438.3,1411.0M397.6,1455.5L442.9,1411.0M402.2,1455.5L447.4,1411.0M406.7,1455.5L452.0,1411.0M411.3,1455.5L456.5,1411.0M415.8,1455.5L461.1,1411.0M420.4,1455.5L465.6,1411.0M424.9,1455.5L470.2,1411.0M429.5,1455.5L474.7,1411.0M434.0,1455.5L479.3,1411.0M438.6,1455.5L483.8,1411.0M443.1,1455.5L488.4,1411.0M447.7,1455.5L492.9,1411.0M452.2,1455.5L495.5,1413.0M456.8,1455.5L495.5,1417.4M461.3,1455.5L495.5,1421.9M465.9,1455.5L495.5,1426.4M470.4,1455.5L495.5,1430.8M475.0,1455.5L495.5,1435.3M479.5,1455.5L495.5,1439.8M484.1,1455.5L495.5,1444.3M488.6,1455.5L495.5,1448.7M493.2,1455.5L495.5,1453.2M495.5,1301.2L498.0,1298.8M495.5,1305.7L502.5,1298.8M495.5,1310.2L507.1,1298.8M495.5,1314.6L511.6,1298.8M495.5,1319.1L516.2,1298.8M495.5,1323.6L520.7,1298.8M495.5,1328.0L525.3,1298.8M495.5,1332.5L529.8,1298.8M495.5,1337.0L534.4,1298.8M495.5,1341.4L538.9,1298.8M495.5,1345.9L543.5,1298.8M495.5,1350.4L548.0,1298.8M495.5,1354.9L552.6,1298.8M495.5,1359.3L557.1,1298.8M495.5,1363.8L561.7,1298.8M495.5,1368.3L566.2,1298.8M495.5,1372.7L570.8,1298.8M495.5,1377.2L575.3,1298.8M495.5,1381.7L579.9,1298.8M495.5,1386.1L584.4,1298.8M495.5,1390.6L589.0,1298.8M495.5,1395.1L593.5,1298.8M495.5,1399.6L598.1,1298.8M495.5,1404.0L600.5,1300.9M495.5,1408.5L600.5,1305.3M495.5,1413.0L600.5,1309.8M495.5,1417.4L600.5,1314.3M495.5,1421.9L600.5,1318.7M495.5,1426.4L600.5,1323.2M495.5,1430.8L600.5,1327.7M495.5,1435.3L600.5,1332.2M495.5,1439.8L600.5,1336.6M495.5,1444.3L600.5,1341.1M495.5,1448.7L600.5,1345.6M495.5,1453.2L600.5,1350.0M497.7,1455.5L600.5,1354.5M502.3,1455.5L600.5,1359.0M506.8,1455.5L600.5,1363.4M511.4,1455.5L600.5,1367.9M515.9,1455.5L600.5,1372.4M520.5,1455.5L600.5,1376.9M525.0,1455.5L600.5,1381.3M529.6,1455.5L600.5,1385.8M534.1,1455.5L600.5,1390.3M538.7,1455.5L600.5,1394.7M543.2,1455.5L600.5,1399.2M547.8,1455.5L600.5,1403.7M552.3,1455.5L600.5,1408.1M556.9,1455.5L600.5,1412.6M561.4,1455.5L600.5,1417.1M566.0,1455.5L600.5,1421.6M570.5,1455.5L600.5,1426.0M575.1,1455.5L600.5,1430.5M579.6,1455.5L600.5,1435.0M584.2,1455.5L600.5,1439.4M588.7,1455.5L600.5,1443.9M593.3,1455.5L600.5,1448.4M597.8,1455.5L600.5,1452.8M600.5,1019.3L602.8,1017.0M600.5,1023.7L607.3,1017.0M600.5,1028.2L611.9,1017.0M600.5,1032.7L616.4,1017.0M600.5,1037.1L621.0,1017.0M600.5,1041.6L625.5,1017.0M600.5,1046.1L630.1,1017.0M600.5,1050.5L634.6,1017.0M600.5,1055.0L639.2,1017.0M600.5,1059.5L643.7,1017.0M600.5,1064.0L648.3,1017.0M600.5,1068.4L652.8,1017.0M600.5,1072.9L657.4,1017.0M600.5,1077.4L661.9,1017.0M600.5,1081.8L666.5,1017.0M600.5,1086.3L671.0,1017.0M600.5,1090.8L675.6,1017.0M600.5,1095.2L680.1,1017.0M600.5,1099.7L684.7,1017.0M600.5,1104.2L689.2,1017.0M600.5,1108.7L693.8,1017.0M600.5,1113.1L698.3,1017.0M600.5,1117.6L702.9,1017.0M600.5,1122.1L707.4,1017.0M600.5,1126.5L709.3,1019.7M600.5,1131.0L709.3,1024.1M600.5,1135.5L709.3,1028.6M600.5,1139.9L709.3,1033.1M600.5,1144.4L709.3,1037.5M600.5,1148.9L709.3,1042.0M600.5,1153.4L709.3,1046.5M600.5,1157.8L709.3,1050.9M600.5,1162.3L709.3,1055.4M600.5,1166.8L709.3,1059.9M600.5,1171.2L709.3,1064.4M600.5,1175.7L709.3,1068.8M600.5,1180.2L709.3,1073.3M600.5,1184.6L709.3,1077.8M600.5,1189.1L709.3,1082.2M600.5,1193.6L709.3,1086.7M600.5,1198.1L709.3,1091.2M600.5,1202.5L709.3,1095.6M600.5,1207.0L709.3,1100.1M600.5,1211.5L709.3,1104.6M600.5,1215.9L709.3,1109.1M600.5,1220.4L709.3,1113.5M600.5,1224.9L709.3,1118.0M600.5,1229.3L709.3,1122.5M600.5,1233.8L709.3,1126.9M600.5,1238.3L709.3,1131.4M600.5,1242.8L709.3,1135.9M600.5,1247.2L709.3,1140.3M600.5,1251.7L709.3,1144.8M600.5,1256.2L709.3,1149.3M600.5,1260.6L709.3,1153.8M600.5,1265.1L709.3,1158.2M600.5,1269.6L709.3,1162.7M600.5,1274.0L709.3,1167.2M600.5,1278.5L709.3,1171.6M600.5,1283.0L709.3,1176.1M600.5,1287.5L709.3,1180.6M600.5,1291.9L709.3,1185.0M600.5,1296.4L709.3,1189.5M600.5,1300.9L709.3,1194.0M600.5,1305.3L709.3,1198.5M600.5,1309.8L709.3,1202.9M600.5,1314.3L709.3,1207.4M600.5,1318.7L709.3,1211.9M600.5,1323.2L709.3,1216.3M600.5,1327.7L709.3,1220.8M600.5,1332.2L709.3,1225.3M600.5,1336.6L709.3,1229.7M600.5,1341.1L709.3,1234.2M600.5,1345.6L709.3,1238.7M600.5,1350.0L709.3,1243.2M600.5,1354.5L709.3,1247.6M600.5,1359.0L709.3,1252.1M600.5,1363.4L709.3,1256.6M600.5,1367.9L709.3,1261.0M600.5,1372.4L709.3,1265.5M600.5,1376.9L709.3,1270.0M600.5,1381.3L709.3,1274.4M600.5,1385.8L709.3,1278.9M600.5,1390.3L709.3,1283.4M600.5,1394.7L709.3,1287.9M600.5,1399.2L709.3,1292.3M600.5,1403.7L709.3,1296.8M600.5,1408.1L709.3,1301.3M600.5,1412.6L709.3,1305.7M600.5,1417.1L709.3,1310.2M600.5,1421.6L709.3,1314.7M600.5,1426.0L709.3,1319.1M600.5,1430.5L709.3,1323.6M600.5,1435.0L709.3,1328.1M600.5,1439.4L709.3,1332.6M600.5,1443.9L709.3,1337.0M600.5,1448.4L709.3,1341.5M600.5,1452.8L709.3,1346.0M602.4,1455.5L709.3,1350.4M606.9,1455.5L709.3,1354.9M611.5,1455.5L709.3,1359.4M616.0,1455.5L709.3,1363.8M620.6,1455.5L709.3,1368.3M625.1,1455.5L709.3,1372.8M629.7,1455.5L709.3,1377.3M634.2,1455.5L709.3,1381.7M638.8,1455.5L709.3,1386.2M643.3,1455.5L709.3,1390.7M647.9,1455.5L709.3,1395.1M652.4,1455.5L709.3,1399.6M657.0,1455.5L709.3,1404.1M661.5,1455.5L709.3,1408.5M666.1,1455.5L709.3,1413.0M670.6,1455.5L709.3,1417.5M675.2,1455.5L709.3,1422.0M679.7,1455.5L709.3,1426.4M684.3,1455.5L709.3,1430.9M688.8,1455.5L709.3,1435.4M693.4,1455.5L709.3,1439.8M697.9,1455.5L709.3,1444.3M702.5,1455.5L709.3,1448.8M707.0,1455.5L709.3,1453.2M709.3,1332.6L710.6,1331.3M709.3,1337.0L715.1,1331.3M709.3,1341.5L719.7,1331.3M709.3,1346.0L724.2,1331.3M709.3,1350.4L728.8,1331.3M709.3,1354.9L733.3,1331.3M709.3,1359.4L737.9,1331.3M709.3,1363.8L742.4,1331.3M709.3,1368.3L747.0,1331.3M709.3,1372.8L751.5,1331.3M709.3,1377.3L756.1,1331.3M709.3,1381.7L760.6,1331.3M709.3,1386.2L765.2,1331.3M709.3,1390.7L769.7,1331.3M709.3,1395.1L774.3,1331.3M709.3,1399.6L778.8,1331.3M709.3,1404.1L783.4,1331.3M709.3,1408.5L787.9,1331.3M709.3,1413.0L792.5,1331.3M709.3,1417.5L797.0,1331.3M709.3,1422.0L801.6,1331.3M709.3,1426.4L806.1,1331.3M709.3,1430.9L810.7,1331.3M709.3,1435.4L814.3,1332.2M709.3,1439.8L814.3,1336.7M709.3,1444.3L814.3,1341.1M709.3,1448.8L814.3,1345.6M709.3,1453.2L814.3,1350.1M711.6,1455.5L814.3,1354.6M716.1,1455.5L814.3,1359.0M720.7,1455.5L814.3,1363.5M725.2,1455.5L814.3,1368.0M729.8,1455.5L814.3,1372.4M734.3,1455.5L814.3,1376.9M738.9,1455.5L814.3,1381.4M743.4,1455.5L814.3,1385.8M748.0,1455.5L814.3,1390.3M752.5,1455.5L814.3,1394.8M757.1,1455.5L814.3,1399.3M761.6,1455.5L814.3,1403.7M766.2,1455.5L814.3,1408.2M770.7,1455.5L814.3,1412.7M775.3,1455.5L814.3,1417.1M779.8,1455.5L814.3,1421.6M784.4,1455.5L814.3,1426.1M788.9,1455.5L814.3,1430.5M793.5,1455.5L814.3,1435.0M798.0,1455.5L814.3,1439.5M802.6,1455.5L814.3,1444.0M807.1,1455.5L814.3,1448.4M811.7,1455.5L814.3,1452.9M814.3,1430.5L816.1,1428.8M814.3,1435.0L820.6,1428.8M814.3,1439.5L825.2,1428.8M814.3,1444.0L829.7,1428.8M814.3,1448.4L834.3,1428.8M814.3,1452.9L838.8,1428.8M816.2,1455.5L843.4,1428.8M820.8,1455.5L847.9,1428.8M825.3,1455.5L852.5,1428.8M829.9,1455.5L857.0,1428.8M834.4,1455.5L861.6,1428.8M839.0,1455.5L866.1,1428.8M843.5,1455.5L870.7,1428.8M848.1,1455.5L875.2,1428.8M852.6,1455.5L879.8,1428.8M857.2,1455.5L884.3,1428.8M861.7,1455.5L888.9,1428.8M866.3,1455.5L893.4,1428.8M870.8,1455.5L898.0,1428.8M875.4,1455.5L902.5,1428.8M879.9,1455.5L907.1,1428.8M884.5,1455.5L911.6,1428.8M889.0,1455.5L916.2,1428.8M893.6,1455.5L919.3,1430.2M898.1,1455.5L919.3,1434.7M902.7,1455.5L919.3,1439.1M907.2,1455.5L919.3,1443.6M911.8,1455.5L919.3,1448.1M916.3,1455.5L919.3,1452.6M919.3,1448.1L923.5,1444.0M919.3,1452.6L928.0,1444.0M920.9,1455.5L932.6,1444.0M925.4,1455.5L937.1,1444.0M930.0,1455.5L941.7,1444.0M934.5,1455.5L946.2,1444.0M939.1,1455.5L950.8,1444.0M943.6,1455.5L955.3,1444.0M948.2,1455.5L959.9,1444.0M952.7,1455.5L964.4,1444.0M957.3,1455.5L969.0,1444.0M961.8,1455.5L973.5,1444.0M966.4,1455.5L978.1,1444.0M970.9,1455.5L982.6,1444.0M975.5,1455.5L987.2,1444.0M980.0,1455.5L991.7,1444.0M984.6,1455.5L996.3,1444.0M989.1,1455.5L1000.8,1444.0M993.7,1455.5L1005.4,1444.0M998.2,1455.5L1009.9,1444.0M1002.8,1455.5L1014.5,1444.0M1007.3,1455.5L1019.0,1444.0M1011.9,1455.5L1023.6,1444.0M1016.4,1455.5L1023.9,1448.1M1021.0,1455.5L1023.9,1452.6M1023.9,1452.6L1026.8,1449.8M1025.5,1455.5L1031.3,1449.8M1030.1,1455.5L1035.9,1449.8M1034.6,1455.5L1040.4,1449.8M1039.2,1455.5L1045.0,1449.8M1043.7,1455.5L1049.5,1449.8M1048.3,1455.5L1054.1,1449.8M1052.8,1455.5L1058.6,1449.8M1057.4,1455.5L1063.2,1449.8M1061.9,1455.5L1067.7,1449.8M1066.5,1455.5L1072.3,1449.8M1071.0,1455.5L1076.8,1449.8M1075.6,1455.5L1081.4,1449.8M1080.1,1455.5L1085.9,1449.8M1084.7,1455.5L1090.5,1449.8M1089.2,1455.5L1095.0,1449.8M1093.8,1455.5L1099.6,1449.8M1098.3,1455.5L1104.1,1449.8M1102.9,1455.5L1108.7,1449.8M1107.4,1455.5L1113.2,1449.8M1112.0,1455.5L1117.8,1449.8M1116.5,1455.5L1122.3,1449.8M1121.1,1455.5L1126.9,1449.8M1125.6,1455.5L1129.5,1451.7" fill="none" stroke="#000" stroke-opacity="0.58" stroke-width="1.02"/>
<rect x="73.75" y="1448.90" width="108.15" height="1.80" fill="#000" />
<rect x="73.75" y="1448.90" width="3.00" height="6.60" fill="#000" />
<rect x="178.90" y="1448.90" width="3.00" height="6.60" fill="#000" />
<rect x="178.90" y="1448.90" width="108.10" height="1.80" fill="#000" />
<rect x="178.90" y="1448.90" width="3.00" height="6.60" fill="#000" />
<rect x="284.00" y="1448.90" width="3.00" height="6.60" fill="#000" />
<rect x="284.00" y="1442.70" width="108.00" height="1.80" fill="#000" />
<rect x="284.00" y="1442.70" width="3.00" height="12.80" fill="#000" />
<rect x="389.00" y="1442.70" width="3.00" height="12.80" fill="#000" />
<rect x="389.00" y="1410.10" width="108.00" height="1.80" fill="#000" />
<rect x="389.00" y="1410.10" width="3.00" height="45.40" fill="#000" />
<rect x="494.00" y="1410.10" width="3.00" height="45.40" fill="#000" />
<rect x="494.00" y="1297.90" width="108.00" height="1.80" fill="#000" />
<rect x="494.00" y="1297.90" width="3.00" height="157.60" fill="#000" />
<rect x="599.00" y="1297.90" width="3.00" height="157.60" fill="#000" />
<rect x="599.00" y="1016.10" width="111.80" height="1.80" fill="#000" />
<rect x="599.00" y="1016.10" width="3.00" height="439.40" fill="#000" />
<rect x="707.80" y="1016.10" width="3.00" height="439.40" fill="#000" />
<rect x="707.80" y="1330.40" width="108.00" height="1.80" fill="#000" />
<rect x="707.80" y="1330.40" width="3.00" height="125.10" fill="#000" />
<rect x="812.80" y="1330.40" width="3.00" height="125.10" fill="#000" />
<rect x="812.80" y="1427.90" width="108.00" height="1.80" fill="#000" />
<rect x="812.80" y="1427.90" width="3.00" height="27.60" fill="#000" />
<rect x="917.80" y="1427.90" width="3.00" height="27.60" fill="#000" />
<rect x="917.80" y="1443.10" width="107.60" height="1.80" fill="#000" />
<rect x="917.80" y="1443.10" width="3.00" height="12.40" fill="#000" />
<rect x="1022.40" y="1443.10" width="3.00" height="12.40" fill="#000" />
<rect x="1022.40" y="1448.90" width="108.60" height="1.80" fill="#000" />
<rect x="1022.40" y="1448.90" width="3.00" height="6.60" fill="#000" />
<rect x="1128.00" y="1448.90" width="3.00" height="6.60" fill="#000" />
<path d="M229.3,1454.6 L232.1,1454.6 L234.9,1454.6 L237.7,1454.6 L240.5,1454.6 L243.3,1454.6 L246.1,1454.6 L248.9,1454.6 L251.7,1454.6 L254.5,1454.6 L257.3,1454.6 L260.1,1453.2 L262.9,1453.2 L265.7,1453.2 L268.5,1453.2 L271.3,1453.2 L274.1,1453.2 L276.9,1453.2 L279.7,1453.2 L282.5,1451.8 L285.3,1451.8 L288.1,1451.8 L290.9,1451.8 L293.7,1451.8 L296.5,1451.8 L299.3,1450.4 L302.1,1450.4 L304.9,1450.4 L307.7,1450.4 L310.5,1449.0 L313.3,1449.0 L316.1,1449.0 L318.9,1447.6 L321.7,1447.6 L324.5,1447.6 L327.3,1446.2 L330.1,1446.2 L332.9,1444.8 L335.7,1444.8 L338.5,1444.8 L341.3,1443.4 L344.1,1442.0 L346.9,1442.0 L349.7,1440.6 L352.5,1440.6 L355.3,1439.2 L358.1,1437.8 L360.9,1437.8 L363.7,1436.4 L366.5,1435.0 L369.3,1433.6 L372.1,1432.2 L374.9,1432.2 L377.7,1430.8 L380.5,1429.4 L383.3,1428.0 L386.1,1426.6 L388.9,1425.2 L391.7,1422.4 L394.5,1421.0 L397.3,1419.6 L400.1,1418.2 L402.9,1415.4 L405.7,1414.0 L408.5,1412.6 L411.3,1409.8 L414.1,1408.4 L416.9,1405.6 L419.7,1402.8 L422.5,1401.4 L425.3,1398.6 L428.1,1395.8 L430.9,1393.0 L433.7,1390.2 L436.5,1388.8 L439.3,1386.0 L442.1,1381.8 L444.9,1379.0 L447.7,1376.2 L450.5,1373.4 L453.3,1370.6 L456.1,1366.4 L458.9,1363.6 L461.7,1360.8 L464.5,1356.6 L467.3,1353.8 L470.1,1349.6 L472.9,1346.8 L475.7,1342.6 L478.5,1338.4 L481.3,1334.2 L484.1,1331.4 L486.9,1327.2 L489.7,1323.0 L492.5,1318.8 L495.3,1314.6 L498.1,1310.4 L500.9,1306.2 L503.7,1302.0 L506.5,1297.8 L509.3,1293.6 L512.1,1289.4 L514.9,1285.2 L517.7,1281.0 L520.5,1276.8 L523.3,1272.6 L526.1,1268.4 L528.9,1264.2 L531.7,1260.0 L534.5,1255.8 L537.3,1251.6 L540.1,1247.4 L542.9,1243.2 L545.7,1239.0 L548.5,1234.8 L551.3,1230.6 L554.1,1226.4 L556.9,1223.6 L559.7,1219.4 L562.5,1215.2 L565.3,1212.4 L568.1,1208.2 L570.9,1205.4 L573.7,1201.2 L576.5,1198.4 L579.3,1194.2 L582.1,1191.4 L584.9,1188.6 L587.7,1185.8 L590.5,1183.0 L593.3,1180.2 L596.1,1178.8 L598.9,1176.0 L601.6,1173.2 L604.4,1171.8 L607.2,1169.0 L610.0,1167.6 L612.8,1166.2 L615.6,1164.8 L618.4,1163.4 L621.2,1162.0 L624.0,1162.0 L626.8,1160.6 L629.6,1160.6 L632.4,1159.2 L635.2,1159.2 L638.0,1159.2 L640.8,1159.2 L643.6,1159.2 L646.4,1159.2 L649.2,1160.6 L652.0,1160.6 L654.8,1162.0 L657.6,1162.0 L660.4,1163.4 L663.2,1164.8 L666.0,1166.2 L668.8,1169.0 L671.6,1170.4 L674.4,1171.8 L677.2,1174.6 L680.0,1176.0 L682.8,1178.8 L685.6,1181.6 L688.4,1184.4 L691.2,1187.2 L694.0,1190.0 L696.8,1192.8 L699.6,1195.6 L702.4,1198.4 L705.2,1202.6 L708.0,1205.4 L710.8,1209.6 L713.6,1212.4 L716.4,1216.6 L719.2,1220.8 L722.0,1223.6 L724.8,1227.8 L727.6,1232.0 L730.4,1236.2 L733.2,1240.4 L736.0,1244.6 L738.8,1248.8 L741.6,1253.0 L744.4,1257.2 L747.2,1261.4 L750.0,1265.6 L752.8,1269.8 L755.6,1274.0 L758.4,1278.2 L761.2,1282.4 L764.0,1286.6 L766.8,1290.8 L769.6,1295.0 L772.4,1299.2 L775.2,1303.4 L778.0,1307.6 L780.8,1311.8 L783.6,1316.0 L786.4,1320.2 L789.2,1324.4 L792.0,1328.6 L794.8,1331.4 L797.6,1335.6 L800.4,1339.8 L803.2,1344.0 L806.0,1346.8 L808.8,1351.0 L811.6,1353.8 L814.4,1358.0 L817.2,1360.8 L820.0,1365.0 L822.8,1367.8 L825.6,1370.6 L828.4,1374.8 L831.2,1377.6 L834.0,1380.4 L836.8,1383.2 L839.6,1386.0 L842.4,1388.8 L845.2,1391.6 L848.0,1394.4 L850.8,1397.2 L853.6,1398.6 L856.4,1401.4 L859.2,1404.2 L862.0,1405.6 L864.8,1408.4 L867.6,1411.2 L870.4,1412.6 L873.2,1414.0 L876.0,1416.8 L878.8,1418.2 L881.6,1419.6 L884.4,1422.4 L887.2,1423.8 L890.0,1425.2 L892.8,1426.6 L895.6,1428.0 L898.4,1429.4 L901.2,1430.8 L904.0,1432.2 L906.8,1433.6 L909.6,1435.0 L912.4,1435.0 L915.2,1436.4 L918.0,1437.8 L920.8,1439.2 L923.6,1439.2 L926.4,1440.6 L929.2,1442.0 L932.0,1442.0 L934.8,1443.4 L937.6,1443.4 L940.4,1444.8 L943.2,1444.8 L946.0,1446.2 L948.8,1446.2 L951.6,1446.2 L954.4,1447.6 L957.2,1447.6 L960.0,1449.0 L962.8,1449.0 L965.6,1449.0 L968.4,1449.0 L971.2,1450.4 L974.0,1450.4 L976.8,1450.4 L979.6,1450.4 L982.4,1451.8 L985.2,1451.8 L988.0,1451.8 L990.8,1451.8 L993.6,1451.8 L996.4,1453.2 L999.2,1453.2 L1002.0,1453.2 L1004.8,1453.2 L1007.6,1453.2 L1010.4,1453.2 L1013.2,1453.2 L1016.0,1453.2 L1018.8,1453.2 L1021.6,1454.6 L1024.4,1454.6 L1027.2,1454.6 L1030.0,1454.6 L1032.8,1454.6 L1035.6,1454.6 L1038.4,1454.6 L1041.2,1454.6 L1044.0,1454.6 L1046.8,1454.6 L1049.6,1454.6" fill="none" stroke="#000" stroke-width="2.3" stroke-linejoin="round"/>
<rect x="73.50" y="911.80" width="3.50" height="544.70" fill="#000" />
<rect x="73.50" y="911.80" width="1057.45" height="2.40" fill="#000" />
<rect x="1127.25" y="911.80" width="3.70" height="544.70" fill="#000" />
<rect x="73.50" y="1454.50" width="1057.45" height="2.00" fill="#000" />
<rect x="65.00" y="910.00" width="8.50" height="6.20" fill="#000" />
<text transform="translate(-4.73,922.60) scale(1.6667,1)" font-size="21.8">100</text>
<rect x="65.00" y="1018.32" width="8.50" height="6.20" fill="#000" />
<text transform="translate(15.97,1029.70) scale(1.6478,1)" font-size="21.8">80</text>
<rect x="65.00" y="1126.64" width="8.50" height="6.20" fill="#000" />
<text transform="translate(15.69,1139.00) scale(1.6599,1)" font-size="21.8">60</text>
<rect x="65.00" y="1234.96" width="8.50" height="6.20" fill="#000" />
<text transform="translate(16.71,1245.00) scale(1.6164,1)" font-size="21.8">40</text>
<rect x="65.00" y="1343.28" width="8.50" height="6.20" fill="#000" />
<text transform="translate(15.69,1354.00) scale(1.6599,1)" font-size="21.8">20</text>
<rect x="65.00" y="1451.60" width="8.50" height="6.20" fill="#000" />
<text transform="translate(35.53,1451.50) scale(1.6812,1)" font-size="21.8">0</text>
<rect x="122.83" y="1457.70" width="10.00" height="2.20" fill="#444" />
<rect x="333.00" y="1457.70" width="10.00" height="2.20" fill="#444" />
<rect x="543.00" y="1457.70" width="10.00" height="2.20" fill="#444" />
<rect x="756.80" y="1457.70" width="10.00" height="2.20" fill="#444" />
<rect x="966.60" y="1457.70" width="10.00" height="2.20" fill="#444" />
<text transform="translate(84.97,1483.80) scale(1.6625,1)" font-size="21.8">-2.82</text>
<text transform="translate(295.36,1516.30) scale(1.6730,1)" font-size="21.8">-1.62</text>
<text transform="translate(515.57,1483.80) scale(1.6573,1)" font-size="21.8">-.42</text>
<text transform="translate(731.57,1516.30) scale(1.6488,1)" font-size="21.8">.78</text>
<text transform="translate(934.62,1483.80) scale(1.5763,1)" font-size="21.8">1.98</text>
<text transform="translate(1142.42,1375.00) scale(1.5834,1)" font-size="22.2">Std. Dev = .67</text>
<text transform="translate(1141.52,1409.00) scale(1.5730,1)" font-size="22.2">Mean = .09</text>
<text transform="translate(1141.52,1445.00) scale(1.5728,1)" font-size="22.2">N = 153.00</text>
<text transform="translate(72.64,1585.40) scale(1.5695,1)" font-size="28.8">CRACAU</text>
<path d="M79.4,2320.4L83.6,2316.2M84.0,2320.4L88.2,2316.2M88.6,2320.4L92.8,2316.2M93.2,2320.4L97.4,2316.2M97.8,2320.4L102.0,2316.2M102.4,2320.4L106.6,2316.2M107.0,2320.4L111.2,2316.2M111.6,2320.4L115.8,2316.2M116.2,2320.4L120.4,2316.2M120.8,2320.4L125.0,2316.2M125.4,2320.4L129.6,2316.2M130.0,2320.4L134.2,2316.2M134.6,2320.4L138.8,2316.2M139.2,2320.4L143.4,2316.2M143.8,2320.4L148.0,2316.2M148.4,2320.4L152.6,2316.2M153.0,2320.4L157.2,2316.2M157.6,2320.4L161.8,2316.2M162.2,2320.4L166.4,2316.2M166.8,2320.4L171.0,2316.2M171.4,2320.4L175.6,2316.2M176.0,2320.4L180.2,2316.2M180.6,2320.4L184.8,2316.2M185.2,2320.4L186.2,2319.4M186.2,2319.4L189.4,2316.2M189.8,2320.4L194.0,2316.2M194.4,2320.4L198.6,2316.2M199.0,2320.4L203.2,2316.2M203.6,2320.4L207.8,2316.2M208.2,2320.4L212.4,2316.2M212.8,2320.4L217.0,2316.2M217.4,2320.4L221.6,2316.2M222.0,2320.4L226.2,2316.2M226.6,2320.4L230.8,2316.2M231.2,2320.4L235.4,2316.2M235.8,2320.4L240.0,2316.2M240.4,2320.4L244.6,2316.2M245.0,2320.4L249.2,2316.2M249.6,2320.4L253.8,2316.2M254.2,2320.4L258.4,2316.2M258.8,2320.4L263.0,2316.2M263.4,2320.4L267.6,2316.2M268.0,2320.4L272.2,2316.2M272.6,2320.4L276.8,2316.2M277.2,2320.4L281.4,2316.2M281.8,2320.4L286.0,2316.2M286.4,2320.4L290.6,2316.2M291.0,2320.4L294.8,2316.6M294.8,2312.0L298.1,2308.7M294.8,2316.6L302.7,2308.7M295.6,2320.4L307.3,2308.7M300.2,2320.4L311.9,2308.7M304.8,2320.4L316.5,2308.7M309.4,2320.4L321.1,2308.7M314.0,2320.4L325.7,2308.7M318.6,2320.4L330.3,2308.7M323.2,2320.4L334.9,2308.7M327.8,2320.4L339.5,2308.7M332.4,2320.4L344.1,2308.7M337.0,2320.4L348.7,2308.7M341.6,2320.4L353.3,2308.7M346.2,2320.4L357.9,2308.7M350.8,2320.4L362.5,2308.7M355.4,2320.4L367.1,2308.7M360.0,2320.4L371.7,2308.7M364.6,2320.4L376.3,2308.7M369.2,2320.4L380.9,2308.7M373.8,2320.4L385.5,2308.7M378.4,2320.4L390.1,2308.7M383.0,2320.4L394.7,2308.7M387.6,2320.4L399.3,2308.7M392.2,2320.4L402.9,2309.7M396.8,2320.4L402.9,2314.3M401.4,2320.4L402.9,2318.9M402.9,2282.3L404.2,2281.0M402.9,2286.9L408.8,2281.0M402.9,2291.5L413.4,2281.0M402.9,2296.0L418.0,2281.0M402.9,2300.6L422.6,2281.0M402.9,2305.2L427.2,2281.0M402.9,2309.7L431.8,2281.0M402.9,2314.3L436.4,2281.0M402.9,2318.9L441.0,2281.0M406.0,2320.4L445.6,2281.0M410.6,2320.4L450.2,2281.0M415.2,2320.4L454.8,2281.0M419.8,2320.4L459.4,2281.0M424.4,2320.4L464.0,2281.0M429.0,2320.4L468.6,2281.0M433.6,2320.4L473.2,2281.0M438.2,2320.4L477.8,2281.0M442.8,2320.4L482.4,2281.0M447.4,2320.4L487.0,2281.0M452.0,2320.4L491.6,2281.0M456.6,2320.4L496.2,2281.0M461.2,2320.4L500.8,2281.0M465.8,2320.4L505.4,2281.0M470.4,2320.4L510.0,2281.0M475.0,2320.4L511.1,2284.5M479.6,2320.4L511.1,2289.1M484.2,2320.4L511.1,2293.6M488.8,2320.4L511.1,2298.2M493.4,2320.4L511.1,2302.8M498.0,2320.4L511.1,2307.4M502.6,2320.4L511.1,2311.9M507.2,2320.4L511.1,2316.5M511.1,2252.5L515.3,2248.3M511.1,2257.1L519.9,2248.3M511.1,2261.7L524.5,2248.3M511.1,2266.2L529.1,2248.3M511.1,2270.8L533.7,2248.3M511.1,2275.4L538.3,2248.3M511.1,2279.9L542.9,2248.3M511.1,2284.5L547.5,2248.3M511.1,2289.1L552.1,2248.3M511.1,2293.6L556.7,2248.3M511.1,2298.2L561.3,2248.3M511.1,2302.8L565.9,2248.3M511.1,2307.4L570.5,2248.3M511.1,2311.9L575.1,2248.3M511.1,2316.5L579.7,2248.3M511.8,2320.4L584.3,2248.3M516.4,2320.4L588.9,2248.3M521.0,2320.4L593.5,2248.3M525.6,2320.4L598.1,2248.3M530.2,2320.4L602.7,2248.3M534.8,2320.4L607.3,2248.3M539.4,2320.4L611.9,2248.3M544.0,2320.4L616.5,2248.3M548.6,2320.4L618.6,2250.8M553.2,2320.4L618.6,2255.4M557.8,2320.4L618.6,2260.0M562.4,2320.4L618.6,2264.5M567.0,2320.4L618.6,2269.1M571.6,2320.4L618.6,2273.7M576.2,2320.4L618.6,2278.2M580.8,2320.4L618.6,2282.8M585.4,2320.4L618.6,2287.4M590.0,2320.4L618.6,2292.0M594.6,2320.4L618.6,2296.5M599.2,2320.4L618.6,2301.1M603.8,2320.4L618.6,2305.7M608.4,2320.4L618.6,2310.2M613.0,2320.4L618.6,2314.8M617.6,2320.4L618.6,2319.4M618.6,1766.4L619.0,1766.0M618.6,1771.0L623.6,1766.0M618.6,1775.5L628.2,1766.0M618.6,1780.1L632.8,1766.0M618.6,1784.7L637.4,1766.0M618.6,1789.3L642.0,1766.0M618.6,1793.8L646.6,1766.0M618.6,1798.4L651.2,1766.0M618.6,1803.0L655.8,1766.0M618.6,1807.5L660.4,1766.0M618.6,1812.1L665.0,1766.0M618.6,1816.7L669.6,1766.0M618.6,1821.2L674.2,1766.0M618.6,1825.8L678.8,1766.0M618.6,1830.4L683.4,1766.0M618.6,1835.0L688.0,1766.0M618.6,1839.5L692.6,1766.0M618.6,1844.1L697.2,1766.0M618.6,1848.7L701.8,1766.0M618.6,1853.2L706.4,1766.0M618.6,1857.8L711.0,1766.0M618.6,1862.4L715.6,1766.0M618.6,1866.9L720.2,1766.0M618.6,1871.5L724.8,1766.0M618.6,1876.1L729.4,1766.0M618.6,1880.7L729.5,1770.5M618.6,1885.2L729.5,1775.0M618.6,1889.8L729.5,1779.6M618.6,1894.4L729.5,1784.2M618.6,1898.9L729.5,1788.8M618.6,1903.5L729.5,1793.3M618.6,1908.1L729.5,1797.9M618.6,1912.6L729.5,1802.5M618.6,1917.2L729.5,1807.0M618.6,1921.8L729.5,1811.6M618.6,1926.4L729.5,1816.2M618.6,1930.9L729.5,1820.7M618.6,1935.5L729.5,1825.3M618.6,1940.1L729.5,1829.9M618.6,1944.6L729.5,1834.5M618.6,1949.2L729.5,1839.0M618.6,1953.8L729.5,1843.6M618.6,1958.3L729.5,1848.2M618.6,1962.9L729.5,1852.7M618.6,1967.5L729.5,1857.3M618.6,1972.1L729.5,1861.9M618.6,1976.6L729.5,1866.4M618.6,1981.2L729.5,1871.0M618.6,1985.8L729.5,1875.6M618.6,1990.3L729.5,1880.2M618.6,1994.9L729.5,1884.7M618.6,1999.5L729.5,1889.3M618.6,2004.0L729.5,1893.9M618.6,2008.6L729.5,1898.4M618.6,2013.2L729.5,1903.0M618.6,2017.8L729.5,1907.6M618.6,2022.3L729.5,1912.1M618.6,2026.9L729.5,1916.7M618.6,2031.5L729.5,1921.3M618.6,2036.0L729.5,1925.9M618.6,2040.6L729.5,1930.4M618.6,2045.2L729.5,1935.0M618.6,2049.7L729.5,1939.6M618.6,2054.3L729.5,1944.1M618.6,2058.9L729.5,1948.7M618.6,2063.5L729.5,1953.3M618.6,2068.0L729.5,1957.8M618.6,2072.6L729.5,1962.4M618.6,2077.2L729.5,1967.0M618.6,2081.7L729.5,1971.6M618.6,2086.3L729.5,1976.1M618.6,2090.9L729.5,1980.7M618.6,2095.4L729.5,1985.3M618.6,2100.0L729.5,1989.8M618.6,2104.6L729.5,1994.4M618.6,2109.2L729.5,1999.0M618.6,2113.7L729.5,2003.5M618.6,2118.3L729.5,2008.1M618.6,2122.9L729.5,2012.7M618.6,2127.4L729.5,2017.3M618.6,2132.0L729.5,2021.8M618.6,2136.6L729.5,2026.4M618.6,2141.1L729.5,2031.0M618.6,2145.7L729.5,2035.5M618.6,2150.3L729.5,2040.1M618.6,2154.9L729.5,2044.7M618.6,2159.4L729.5,2049.2M618.6,2164.0L729.5,2053.8M618.6,2168.6L729.5,2058.4M618.6,2173.1L729.5,2063.0M618.6,2177.7L729.5,2067.5M618.6,2182.3L729.5,2072.1M618.6,2186.8L729.5,2076.7M618.6,2191.4L729.5,2081.2M618.6,2196.0L729.5,2085.8M618.6,2200.6L729.5,2090.4M618.6,2205.1L729.5,2094.9M618.6,2209.7L729.5,2099.5M618.6,2214.3L729.5,2104.1M618.6,2218.8L729.5,2108.7M618.6,2223.4L729.5,2113.2M618.6,2228.0L729.5,2117.8M618.6,2232.5L729.5,2122.4M618.6,2237.1L729.5,2126.9M618.6,2241.7L729.5,2131.5M618.6,2246.3L729.5,2136.1M618.6,2250.8L729.5,2140.6M618.6,2255.4L729.5,2145.2M618.6,2260.0L729.5,2149.8M618.6,2264.5L729.5,2154.4M618.6,2269.1L729.5,2158.9M618.6,2273.7L729.5,2163.5M618.6,2278.2L729.5,2168.1M618.6,2282.8L729.5,2172.6M618.6,2287.4L729.5,2177.2M618.6,2292.0L729.5,2181.8M618.6,2296.5L729.5,2186.3M618.6,2301.1L729.5,2190.9M618.6,2305.7L729.5,2195.5M618.6,2310.2L729.5,2200.1M618.6,2314.8L729.5,2204.6M618.6,2319.4L729.5,2209.2M622.2,2320.4L729.5,2213.8M626.8,2320.4L729.5,2218.3M631.4,2320.4L729.5,2222.9M636.0,2320.4L729.5,2227.5M640.6,2320.4L729.5,2232.0M645.2,2320.4L729.5,2236.6M649.8,2320.4L729.5,2241.2M654.4,2320.4L729.5,2245.8M659.0,2320.4L729.5,2250.3M663.6,2320.4L729.5,2254.9M668.2,2320.4L729.5,2259.5M672.8,2320.4L729.5,2264.0M677.4,2320.4L729.5,2268.6M682.0,2320.4L729.5,2273.2M686.6,2320.4L729.5,2277.7M691.2,2320.4L729.5,2282.3M695.8,2320.4L729.5,2286.9M700.4,2320.4L729.5,2291.5M705.0,2320.4L729.5,2296.0M709.6,2320.4L729.5,2300.6M714.2,2320.4L729.5,2305.2M718.8,2320.4L729.5,2309.7M723.4,2320.4L729.5,2314.3M728.0,2320.4L729.5,2318.9M729.5,2172.6L731.4,2170.8M729.5,2177.2L736.0,2170.8M729.5,2181.8L740.6,2170.8M729.5,2186.3L745.2,2170.8M729.5,2190.9L749.8,2170.8M729.5,2195.5L754.4,2170.8M729.5,2200.1L759.0,2170.8M729.5,2204.6L763.6,2170.8M729.5,2209.2L768.2,2170.8M729.5,2213.8L772.8,2170.8M729.5,2218.3L777.4,2170.8M729.5,2222.9L782.0,2170.8M729.5,2227.5L786.6,2170.8M729.5,2232.0L791.2,2170.8M729.5,2236.6L795.8,2170.8M729.5,2241.2L800.4,2170.8M729.5,2245.8L805.0,2170.8M729.5,2250.3L809.6,2170.8M729.5,2254.9L814.2,2170.8M729.5,2259.5L818.8,2170.8M729.5,2264.0L823.4,2170.8M729.5,2268.6L828.0,2170.8M729.5,2273.2L832.6,2170.8M729.5,2277.7L837.1,2170.8M729.5,2282.3L837.1,2175.4M729.5,2286.9L837.1,2180.0M729.5,2291.5L837.1,2184.6M729.5,2296.0L837.1,2189.1M729.5,2300.6L837.1,2193.7M729.5,2305.2L837.1,2198.3M729.5,2309.7L837.1,2202.8M729.5,2314.3L837.1,2207.4M729.5,2318.9L837.1,2212.0M732.6,2320.4L837.1,2216.5M737.2,2320.4L837.1,2221.1M741.8,2320.4L837.1,2225.7M746.4,2320.4L837.1,2230.3M751.0,2320.4L837.1,2234.8M755.6,2320.4L837.1,2239.4M760.2,2320.4L837.1,2244.0M764.8,2320.4L837.1,2248.5M769.4,2320.4L837.1,2253.1M774.0,2320.4L837.1,2257.7M778.6,2320.4L837.1,2262.2M783.2,2320.4L837.1,2266.8M787.8,2320.4L837.1,2271.4M792.4,2320.4L837.1,2276.0M797.0,2320.4L837.1,2280.5M801.6,2320.4L837.1,2285.1M806.2,2320.4L837.1,2289.7M810.8,2320.4L837.1,2294.2M815.4,2320.4L837.1,2298.8M820.0,2320.4L837.1,2303.4M824.6,2320.4L837.1,2307.9M829.2,2320.4L837.1,2312.5M833.8,2320.4L837.1,2317.1M837.1,2317.1L839.3,2314.9M838.4,2320.4L843.9,2314.9M843.0,2320.4L848.5,2314.9M847.6,2320.4L853.1,2314.9M852.2,2320.4L857.7,2314.9M856.8,2320.4L862.3,2314.9M861.4,2320.4L866.9,2314.9M866.0,2320.4L871.5,2314.9M870.6,2320.4L876.1,2314.9M875.2,2320.4L880.7,2314.9M879.8,2320.4L885.3,2314.9M884.4,2320.4L889.9,2314.9M889.0,2320.4L894.5,2314.9M893.6,2320.4L899.1,2314.9M898.2,2320.4L903.7,2314.9M902.8,2320.4L908.3,2314.9M907.4,2320.4L912.9,2314.9M912.0,2320.4L917.5,2314.9M916.6,2320.4L922.1,2314.9M921.2,2320.4L926.7,2314.9M925.8,2320.4L931.3,2314.9M930.4,2320.4L935.9,2314.9M935.0,2320.4L940.5,2314.9M939.6,2320.4L945.1,2314.9M944.2,2320.4L945.1,2319.5M1053.7,2316.7L1054.2,2316.2M1054.6,2320.4L1058.8,2316.2M1059.2,2320.4L1063.4,2316.2M1063.8,2320.4L1068.0,2316.2M1068.4,2320.4L1072.6,2316.2M1073.0,2320.4L1077.2,2316.2M1077.6,2320.4L1081.8,2316.2M1082.2,2320.4L1086.4,2316.2M1086.8,2320.4L1091.0,2316.2M1091.4,2320.4L1095.6,2316.2M1096.0,2320.4L1100.2,2316.2M1100.6,2320.4L1104.8,2316.2M1105.2,2320.4L1109.4,2316.2M1109.8,2320.4L1114.0,2316.2M1114.4,2320.4L1118.6,2316.2M1119.0,2320.4L1123.2,2316.2M1123.6,2320.4L1127.8,2316.2M1128.2,2320.4L1132.4,2316.2M1132.8,2320.4L1137.0,2316.2M1137.4,2320.4L1141.6,2316.2M1142.0,2320.4L1146.2,2316.2M1146.6,2320.4L1150.8,2316.2M1151.2,2320.4L1155.4,2316.2M1155.8,2320.4L1160.0,2316.2M1160.4,2320.4L1161.5,2319.3" fill="none" stroke="#757575" stroke-width="1.15"/>
<rect x="77.70" y="2315.10" width="110.00" height="2.20" fill="#000" />
<rect x="77.70" y="2315.10" width="3.00" height="5.30" fill="#000" />
<rect x="184.70" y="2315.10" width="3.00" height="5.30" fill="#000" />
<rect x="184.70" y="2315.10" width="111.60" height="2.20" fill="#000" />
<rect x="184.70" y="2315.10" width="3.00" height="5.30" fill="#000" />
<rect x="293.30" y="2315.10" width="3.00" height="5.30" fill="#000" />
<rect x="293.30" y="2307.60" width="111.10" height="2.20" fill="#000" />
<rect x="293.30" y="2307.60" width="3.00" height="12.80" fill="#000" />
<rect x="401.40" y="2307.60" width="3.00" height="12.80" fill="#000" />
<rect x="401.40" y="2279.90" width="111.20" height="2.20" fill="#000" />
<rect x="401.40" y="2279.90" width="3.00" height="40.50" fill="#000" />
<rect x="509.60" y="2279.90" width="3.00" height="40.50" fill="#000" />
<rect x="509.60" y="2247.20" width="110.50" height="2.20" fill="#000" />
<rect x="509.60" y="2247.20" width="3.00" height="73.20" fill="#000" />
<rect x="617.10" y="2247.20" width="3.00" height="73.20" fill="#000" />
<rect x="617.10" y="1764.90" width="113.90" height="2.20" fill="#000" />
<rect x="617.10" y="1764.90" width="3.00" height="555.50" fill="#000" />
<rect x="728.00" y="1764.90" width="3.00" height="555.50" fill="#000" />
<rect x="728.00" y="2169.68" width="110.60" height="2.20" fill="#000" />
<rect x="728.00" y="2169.68" width="3.00" height="150.72" fill="#000" />
<rect x="835.60" y="2169.68" width="3.00" height="150.72" fill="#000" />
<rect x="835.60" y="2313.76" width="111.00" height="2.20" fill="#000" />
<rect x="835.60" y="2313.76" width="3.00" height="6.64" fill="#000" />
<rect x="943.60" y="2313.76" width="3.00" height="6.64" fill="#000" />
<rect x="1052.20" y="2315.10" width="110.80" height="2.20" fill="#000" />
<rect x="1052.20" y="2315.10" width="3.00" height="5.30" fill="#000" />
<rect x="1160.00" y="2315.10" width="3.00" height="5.30" fill="#000" />
<path d="M294.8,2319.8 L297.6,2319.8 L300.4,2319.8 L303.2,2319.8 L306.0,2319.8 L308.8,2319.8 L311.6,2319.8 L314.4,2319.8 L317.2,2318.4 L320.0,2318.4 L322.8,2318.4 L325.6,2318.4 L328.4,2318.4 L331.2,2318.4 L334.0,2318.4 L336.8,2318.4 L339.6,2317.0 L342.4,2317.0 L345.2,2317.0 L348.0,2317.0 L350.8,2317.0 L353.6,2317.0 L356.4,2315.6 L359.2,2315.6 L362.0,2315.6 L364.8,2314.2 L367.6,2314.2 L370.4,2314.2 L373.2,2312.8 L376.0,2312.8 L378.8,2312.8 L381.6,2311.4 L384.4,2311.4 L387.2,2310.0 L390.0,2310.0 L392.8,2308.6 L395.6,2308.6 L398.4,2307.2 L401.2,2305.8 L404.0,2305.8 L406.8,2304.4 L409.6,2303.0 L412.4,2301.6 L415.2,2300.2 L418.0,2300.2 L420.8,2298.8 L423.6,2297.4 L426.4,2294.6 L429.2,2293.2 L432.0,2291.8 L434.8,2290.4 L437.6,2289.0 L440.4,2286.2 L443.2,2284.8 L446.0,2282.0 L448.8,2280.6 L451.6,2277.8 L454.4,2276.4 L457.2,2273.6 L460.0,2270.8 L462.8,2268.0 L465.6,2265.2 L468.4,2262.4 L471.2,2259.6 L474.0,2256.8 L476.8,2254.0 L479.6,2249.8 L482.4,2247.0 L485.2,2242.8 L488.0,2240.0 L490.8,2235.8 L493.6,2231.6 L496.4,2228.8 L499.2,2224.6 L502.0,2220.4 L504.8,2216.2 L507.6,2212.0 L510.4,2206.4 L513.2,2202.2 L516.0,2198.0 L518.8,2193.8 L521.6,2188.2 L524.4,2184.0 L527.2,2178.4 L530.0,2172.8 L532.8,2168.6 L535.6,2163.0 L538.4,2157.4 L541.2,2151.8 L544.0,2147.6 L546.8,2142.0 L549.6,2136.4 L552.4,2130.8 L555.2,2125.2 L558.0,2119.6 L560.8,2114.0 L563.6,2108.4 L566.4,2102.8 L569.2,2097.2 L572.0,2091.6 L574.8,2086.0 L577.6,2080.4 L580.4,2074.8 L583.2,2070.6 L586.0,2065.0 L588.8,2059.4 L591.6,2053.8 L594.4,2049.6 L597.2,2044.0 L600.0,2039.8 L602.8,2034.2 L605.6,2030.0 L608.4,2025.8 L611.2,2021.6 L614.0,2017.4 L616.8,2013.2 L619.6,2009.0 L622.4,2004.8 L625.2,2002.0 L628.0,1997.8 L630.8,1995.0 L633.6,1992.2 L636.4,1989.4 L639.2,1986.6 L642.0,1983.8 L644.8,1982.4 L647.6,1981.0 L650.4,1978.2 L653.2,1976.8 L656.0,1976.8 L658.8,1975.4 L661.6,1974.0 L664.4,1974.0 L667.2,1974.0 L670.0,1974.0 L672.8,1974.0 L675.6,1974.0 L678.4,1975.4 L681.2,1976.8 L684.0,1978.2 L686.8,1979.6 L689.6,1981.0 L692.4,1982.4 L695.2,1985.2 L698.0,1986.6 L700.8,1989.4 L703.6,1992.2 L706.4,1995.0 L709.2,1999.2 L712.0,2002.0 L714.8,2006.2 L717.6,2009.0 L720.4,2013.2 L723.2,2017.4 L726.0,2021.6 L728.8,2025.8 L731.6,2031.4 L734.4,2035.6 L737.2,2039.8 L740.0,2045.4 L742.8,2049.6 L745.6,2055.2 L748.4,2060.8 L751.2,2065.0 L754.0,2070.6 L756.8,2076.2 L759.6,2081.8 L762.4,2087.4 L765.2,2093.0 L768.0,2098.6 L770.8,2104.2 L773.6,2109.8 L776.4,2115.4 L779.2,2121.0 L782.0,2126.6 L784.8,2132.2 L787.6,2137.8 L790.4,2142.0 L793.2,2147.6 L796.0,2153.2 L798.8,2158.8 L801.6,2164.4 L804.4,2168.6 L807.2,2174.2 L810.0,2179.8 L812.8,2184.0 L815.6,2189.6 L818.4,2193.8 L821.2,2199.4 L824.0,2203.6 L826.8,2207.8 L829.6,2212.0 L832.4,2216.2 L835.2,2220.4 L838.0,2224.6 L840.8,2228.8 L843.6,2233.0 L846.4,2237.2 L849.2,2240.0 L852.0,2244.2 L854.8,2247.0 L857.6,2251.2 L860.4,2254.0 L863.2,2256.8 L866.0,2259.6 L868.8,2263.8 L871.6,2266.6 L874.4,2269.4 L877.2,2270.8 L880.0,2273.6 L882.8,2276.4 L885.6,2279.2 L888.4,2280.6 L891.2,2283.4 L894.0,2284.8 L896.8,2287.6 L899.6,2289.0 L902.4,2290.4 L905.2,2291.8 L908.0,2294.6 L910.8,2296.0 L913.6,2297.4 L916.4,2298.8 L919.2,2300.2 L922.0,2301.6 L924.8,2301.6 L927.6,2303.0 L930.4,2304.4 L933.2,2305.8 L936.0,2305.8 L938.8,2307.2 L941.6,2308.6 L944.4,2308.6 L947.2,2310.0 L950.0,2310.0 L952.8,2311.4 L955.6,2311.4 L958.4,2312.8 L961.2,2312.8 L964.0,2314.2 L966.8,2314.2 L969.6,2314.2 L972.4,2315.6 L975.2,2315.6 L978.0,2315.6 L980.8,2315.6 L983.6,2317.0 L986.4,2317.0 L989.2,2317.0 L992.0,2317.0 L994.8,2317.0 L997.6,2318.4 L1000.4,2318.4 L1003.2,2318.4 L1006.0,2318.4 L1008.8,2318.4 L1011.6,2318.4 L1014.4,2318.4 L1017.2,2318.4 L1020.0,2318.4 L1022.8,2319.8 L1025.6,2319.8 L1028.4,2319.8 L1031.2,2319.8 L1034.0,2319.8 L1036.8,2319.8 L1039.6,2319.8" fill="none" stroke="#000" stroke-width="2.7" stroke-linejoin="round"/>
<rect x="77.55" y="1654.00" width="3.30" height="667.65" fill="#000" />
<rect x="77.55" y="1654.00" width="1085.45" height="2.80" fill="#000" />
<rect x="1159.70" y="1654.00" width="3.30" height="667.65" fill="#000" />
<rect x="77.55" y="2319.15" width="1085.45" height="2.50" fill="#000" />
<rect x="69.05" y="1651.90" width="8.50" height="7.00" fill="#000" />
<text transform="translate(-3.85,1667.30) scale(1.4372,1)" font-size="26.4">120</text>
<rect x="69.05" y="1762.73" width="8.50" height="7.00" fill="#000" />
<text transform="translate(-3.85,1777.00) scale(1.4372,1)" font-size="26.4">100</text>
<rect x="69.05" y="1873.57" width="8.50" height="7.00" fill="#000" />
<text transform="translate(17.39,1887.30) scale(1.4342,1)" font-size="26.4">80</text>
<rect x="69.05" y="1984.40" width="8.50" height="7.00" fill="#000" />
<text transform="translate(17.09,1997.50) scale(1.4448,1)" font-size="26.4">60</text>
<rect x="69.05" y="2095.23" width="8.50" height="7.00" fill="#000" />
<text transform="translate(17.76,2107.50) scale(1.4214,1)" font-size="26.4">40</text>
<rect x="69.05" y="2206.07" width="8.50" height="7.00" fill="#000" />
<text transform="translate(16.67,2219.50) scale(1.4596,1)" font-size="26.4">20</text>
<rect x="69.05" y="2316.90" width="8.50" height="7.00" fill="#000" />
<text transform="translate(38.49,2315.00) scale(1.4279,1)" font-size="26.4">0</text>
<rect x="127.70" y="2322.60" width="10.00" height="2.80" fill="#000" />
<rect x="343.85" y="2322.60" width="10.00" height="2.80" fill="#000" />
<rect x="559.85" y="2322.60" width="10.00" height="2.80" fill="#000" />
<rect x="778.30" y="2322.60" width="10.00" height="2.80" fill="#000" />
<rect x="994.40" y="2322.60" width="10.00" height="2.80" fill="#000" />
<text transform="translate(89.22,2354.50) scale(1.4183,1)" font-size="26.4">-3.06</text>
<text transform="translate(305.51,2394.80) scale(1.3383,1)" font-size="26.4">-1.81</text>
<text transform="translate(531.35,2354.50) scale(1.3924,1)" font-size="26.4">-.56</text>
<text transform="translate(752.94,2394.80) scale(1.4125,1)" font-size="26.4">.69</text>
<text transform="translate(961.15,2354.50) scale(1.3383,1)" font-size="26.4">1.94</text>
<text transform="translate(1175.52,2220.90) scale(1.2883,1)" font-size="27.3">Std. Dev = .61</text>
<text transform="translate(1174.55,2263.70) scale(1.3099,1)" font-size="27.3">Mean = .03</text>
<text transform="translate(1174.55,2307.10) scale(1.3095,1)" font-size="27.3">N = 153.00</text>
<text y="2479.8" font-size="34.6"><tspan x="76.09" textLength="88.91" lengthAdjust="spacingAndGlyphs">ANT</tspan><tspan x="170.25" textLength="123.78" lengthAdjust="spacingAndGlyphs">POST</tspan></text>
</svg>
</body></html>
